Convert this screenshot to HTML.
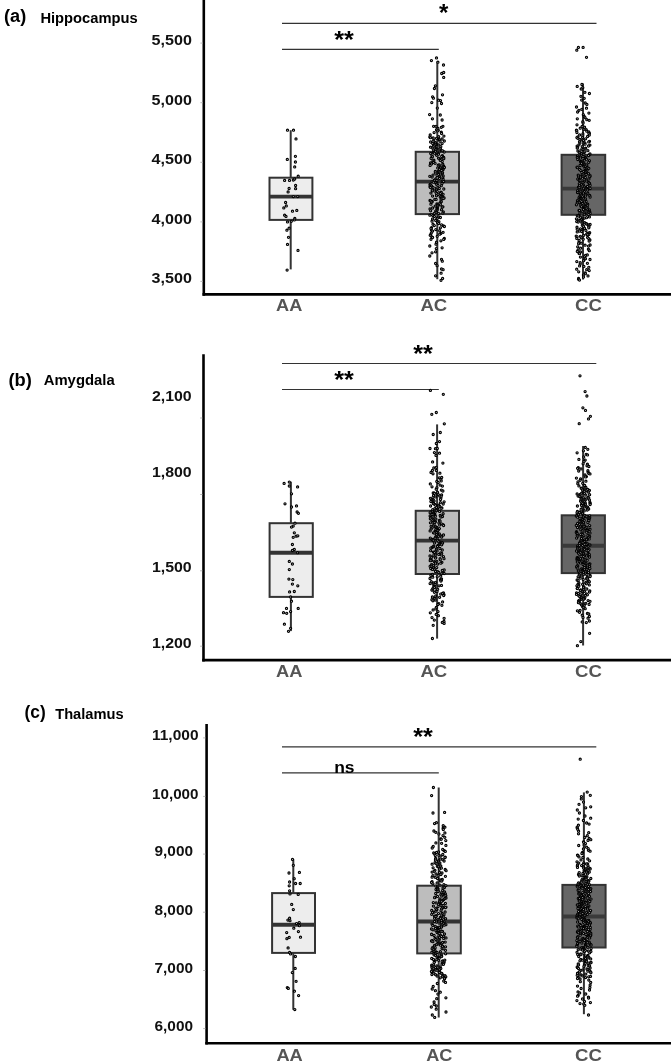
<!DOCTYPE html>
<html lang="en"><head><meta charset="utf-8"><title>Figure</title>
<style>html,body{margin:0;padding:0;background:#fff}svg{display:block}</style>
</head><body>
<svg width="671" height="1062" viewBox="0 0 671 1062">
<rect width="671" height="1062" fill="#fff"/>
<line x1="203.8" y1="0.0" x2="203.8" y2="295.7" stroke="#000" stroke-width="2.6" stroke-linecap="butt"/>
<line x1="202.5" y1="294.4" x2="671.0" y2="294.4" stroke="#000" stroke-width="2.6" stroke-linecap="butt"/>
<text x="151.6" y="45.1" font-size="13.8" fill="#111" text-anchor="start" font-family="Liberation Sans, Arial, Helvetica, sans-serif" font-weight="bold" textLength="40.3" lengthAdjust="spacingAndGlyphs" >5,500</text>
<line x1="200.4" y1="43.1" x2="202.6" y2="43.1" stroke="#bbb" stroke-width="1" stroke-linecap="butt"/>
<text x="151.6" y="104.7" font-size="13.8" fill="#111" text-anchor="start" font-family="Liberation Sans, Arial, Helvetica, sans-serif" font-weight="bold" textLength="40.3" lengthAdjust="spacingAndGlyphs" >5,000</text>
<line x1="200.4" y1="102.7" x2="202.6" y2="102.7" stroke="#bbb" stroke-width="1" stroke-linecap="butt"/>
<text x="151.6" y="164.3" font-size="13.8" fill="#111" text-anchor="start" font-family="Liberation Sans, Arial, Helvetica, sans-serif" font-weight="bold" textLength="40.3" lengthAdjust="spacingAndGlyphs" >4,500</text>
<line x1="200.4" y1="162.3" x2="202.6" y2="162.3" stroke="#bbb" stroke-width="1" stroke-linecap="butt"/>
<text x="151.6" y="223.9" font-size="13.8" fill="#111" text-anchor="start" font-family="Liberation Sans, Arial, Helvetica, sans-serif" font-weight="bold" textLength="40.3" lengthAdjust="spacingAndGlyphs" >4,000</text>
<line x1="200.4" y1="221.9" x2="202.6" y2="221.9" stroke="#bbb" stroke-width="1" stroke-linecap="butt"/>
<text x="151.6" y="283.4" font-size="13.8" fill="#111" text-anchor="start" font-family="Liberation Sans, Arial, Helvetica, sans-serif" font-weight="bold" textLength="40.3" lengthAdjust="spacingAndGlyphs" >3,500</text>
<line x1="200.4" y1="281.4" x2="202.6" y2="281.4" stroke="#bbb" stroke-width="1" stroke-linecap="butt"/>
<text x="4.0" y="22.4" font-size="18" fill="#000" text-anchor="start" font-family="Liberation Sans, Arial, Helvetica, sans-serif" font-weight="bold" textLength="22.2" lengthAdjust="spacingAndGlyphs" >(a)</text>
<text x="40.4" y="23.0" font-size="14.2" fill="#000" text-anchor="start" font-family="Liberation Sans, Arial, Helvetica, sans-serif" font-weight="bold" textLength="97.4" lengthAdjust="spacingAndGlyphs" >Hippocampus</text>
<line x1="282.0" y1="23.4" x2="596.5" y2="23.4" stroke="#333" stroke-width="1.2" stroke-linecap="butt"/>
<line x1="282.0" y1="49.4" x2="438.8" y2="49.4" stroke="#333" stroke-width="1.2" stroke-linecap="butt"/>
<line x1="290.7" y1="130.2" x2="290.7" y2="177.7" stroke="#333" stroke-width="2.0" stroke-linecap="butt"/>
<line x1="290.7" y1="219.9" x2="290.7" y2="269.4" stroke="#333" stroke-width="2.0" stroke-linecap="butt"/>
<rect x="269.5" y="177.7" width="42.9" height="42.2" fill="#ededed" stroke="#333" stroke-width="2.0"/>
<line x1="269.5" y1="196.6" x2="312.4" y2="196.6" stroke="#333" stroke-width="3.9" stroke-linecap="butt"/>
<line x1="437.3" y1="61.6" x2="437.3" y2="151.8" stroke="#333" stroke-width="2.0" stroke-linecap="butt"/>
<line x1="437.3" y1="214.1" x2="437.3" y2="279.2" stroke="#333" stroke-width="2.0" stroke-linecap="butt"/>
<rect x="415.7" y="151.8" width="43.3" height="62.3" fill="#bdbdbd" stroke="#333" stroke-width="2.0"/>
<line x1="415.7" y1="181.6" x2="459.0" y2="181.6" stroke="#333" stroke-width="3.9" stroke-linecap="butt"/>
<line x1="583.0" y1="83.4" x2="583.0" y2="154.8" stroke="#333" stroke-width="2.0" stroke-linecap="butt"/>
<line x1="583.0" y1="214.8" x2="583.0" y2="279.6" stroke="#333" stroke-width="2.0" stroke-linecap="butt"/>
<rect x="561.6" y="154.8" width="43.6" height="60.0" fill="#666" stroke="#333" stroke-width="2.0"/>
<line x1="561.6" y1="188.6" x2="605.2" y2="188.6" stroke="#3a3a3a" stroke-width="3.9" stroke-linecap="butt"/>
<g fill="#cfcfcf" stroke="#000" stroke-width="1.12"><circle cx="287.5" cy="130.2" r="1.08"/><circle cx="293.5" cy="130.2" r="1.08"/><circle cx="296.0" cy="138.9" r="1.08"/><circle cx="295.4" cy="156.3" r="1.08"/><circle cx="287.3" cy="159.4" r="1.08"/><circle cx="295.4" cy="162.0" r="1.08"/><circle cx="294.7" cy="166.9" r="1.08"/><circle cx="298.2" cy="176.2" r="1.08"/><circle cx="284.6" cy="180.4" r="1.08"/><circle cx="289.5" cy="180.4" r="1.08"/><circle cx="293.3" cy="180.0" r="1.08"/><circle cx="294.7" cy="179.0" r="1.08"/><circle cx="295.6" cy="185.5" r="1.08"/><circle cx="295.6" cy="188.7" r="1.08"/><circle cx="289.1" cy="188.5" r="1.08"/><circle cx="288.1" cy="191.9" r="1.08"/><circle cx="293.3" cy="196.6" r="1.08"/><circle cx="297.8" cy="196.6" r="1.08"/><circle cx="285.6" cy="202.5" r="1.08"/><circle cx="286.3" cy="205.9" r="1.08"/><circle cx="283.8" cy="207.9" r="1.08"/><circle cx="296.8" cy="210.4" r="1.08"/><circle cx="292.5" cy="211.2" r="1.08"/><circle cx="284.6" cy="215.2" r="1.08"/><circle cx="286.0" cy="216.4" r="1.08"/><circle cx="294.8" cy="218.5" r="1.08"/><circle cx="294.3" cy="219.9" r="1.08"/><circle cx="291.3" cy="221.3" r="1.08"/><circle cx="287.5" cy="221.9" r="1.08"/><circle cx="289.1" cy="228.2" r="1.08"/><circle cx="286.9" cy="230.2" r="1.08"/><circle cx="288.5" cy="237.3" r="1.08"/><circle cx="287.5" cy="244.4" r="1.08"/><circle cx="298.0" cy="250.4" r="1.08"/><circle cx="287.1" cy="270.1" r="1.08"/></g>
<g fill="#cfcfcf" stroke="#000" stroke-width="1.12"><circle cx="436.5" cy="57.9" r="1.08"/><circle cx="431.4" cy="60.6" r="1.08"/><circle cx="437.9" cy="62.2" r="1.08"/><circle cx="443.5" cy="65.0" r="1.08"/><circle cx="443.7" cy="72.5" r="1.08"/><circle cx="441.7" cy="73.5" r="1.08"/><circle cx="443.7" cy="77.4" r="1.08"/><circle cx="435.4" cy="85.8" r="1.08"/><circle cx="434.4" cy="88.5" r="1.08"/><circle cx="442.5" cy="94.8" r="1.08"/><circle cx="432.6" cy="96.8" r="1.08"/><circle cx="433.4" cy="98.2" r="1.08"/><circle cx="431.8" cy="102.6" r="1.08"/><circle cx="438.5" cy="100.2" r="1.08"/><circle cx="440.5" cy="100.6" r="1.08"/><circle cx="441.5" cy="103.5" r="1.08"/><circle cx="437.3" cy="108.1" r="1.08"/><circle cx="429.6" cy="114.6" r="1.08"/><circle cx="440.3" cy="115.0" r="1.08"/><circle cx="432.4" cy="118.8" r="1.08"/><circle cx="442.1" cy="120.0" r="1.08"/><circle cx="433.6" cy="126.3" r="1.08"/><circle cx="436.0" cy="126.3" r="1.08"/><circle cx="442.9" cy="126.3" r="1.08"/><circle cx="441.3" cy="127.3" r="1.08"/><circle cx="437.9" cy="128.4" r="1.08"/><circle cx="436.5" cy="129.7" r="1.08"/><circle cx="438.3" cy="130.3" r="1.08"/><circle cx="437.2" cy="130.9" r="1.08"/><circle cx="441.3" cy="132.2" r="1.08"/><circle cx="434.1" cy="132.6" r="1.08"/><circle cx="441.6" cy="133.5" r="1.08"/><circle cx="430.2" cy="134.9" r="1.08"/><circle cx="443.9" cy="136.1" r="1.08"/><circle cx="438.7" cy="136.7" r="1.08"/><circle cx="429.8" cy="137.1" r="1.08"/><circle cx="430.5" cy="137.7" r="1.08"/><circle cx="433.2" cy="138.0" r="1.08"/><circle cx="436.5" cy="138.3" r="1.08"/><circle cx="442.1" cy="139.0" r="1.08"/><circle cx="439.1" cy="139.4" r="1.08"/><circle cx="439.4" cy="139.9" r="1.08"/><circle cx="433.7" cy="140.3" r="1.08"/><circle cx="444.3" cy="141.0" r="1.08"/><circle cx="440.1" cy="141.3" r="1.08"/><circle cx="433.0" cy="141.6" r="1.08"/><circle cx="430.6" cy="142.0" r="1.08"/><circle cx="435.5" cy="142.6" r="1.08"/><circle cx="435.3" cy="143.1" r="1.08"/><circle cx="442.1" cy="143.6" r="1.08"/><circle cx="432.7" cy="143.6" r="1.08"/><circle cx="436.6" cy="144.5" r="1.08"/><circle cx="435.5" cy="144.9" r="1.08"/><circle cx="438.9" cy="145.0" r="1.08"/><circle cx="433.6" cy="145.7" r="1.08"/><circle cx="434.5" cy="145.9" r="1.08"/><circle cx="440.8" cy="146.7" r="1.08"/><circle cx="433.2" cy="146.8" r="1.08"/><circle cx="430.5" cy="147.2" r="1.08"/><circle cx="432.2" cy="147.9" r="1.08"/><circle cx="436.2" cy="148.3" r="1.08"/><circle cx="440.4" cy="148.6" r="1.08"/><circle cx="439.1" cy="149.0" r="1.08"/><circle cx="435.8" cy="149.4" r="1.08"/><circle cx="433.6" cy="149.9" r="1.08"/><circle cx="441.5" cy="150.7" r="1.08"/><circle cx="442.7" cy="150.8" r="1.08"/><circle cx="435.4" cy="151.2" r="1.08"/><circle cx="439.1" cy="151.9" r="1.08"/><circle cx="444.2" cy="152.0" r="1.08"/><circle cx="433.4" cy="152.5" r="1.08"/><circle cx="434.5" cy="153.2" r="1.08"/><circle cx="430.7" cy="153.4" r="1.08"/><circle cx="438.2" cy="153.7" r="1.08"/><circle cx="438.5" cy="154.2" r="1.08"/><circle cx="436.3" cy="154.7" r="1.08"/><circle cx="436.8" cy="155.3" r="1.08"/><circle cx="442.4" cy="155.6" r="1.08"/><circle cx="431.9" cy="155.8" r="1.08"/><circle cx="441.7" cy="156.5" r="1.08"/><circle cx="432.4" cy="156.7" r="1.08"/><circle cx="443.5" cy="157.3" r="1.08"/><circle cx="443.7" cy="157.5" r="1.08"/><circle cx="438.5" cy="158.2" r="1.08"/><circle cx="431.1" cy="158.4" r="1.08"/><circle cx="443.8" cy="158.7" r="1.08"/><circle cx="440.0" cy="159.2" r="1.08"/><circle cx="441.8" cy="159.6" r="1.08"/><circle cx="433.9" cy="160.2" r="1.08"/><circle cx="440.3" cy="160.4" r="1.08"/><circle cx="433.0" cy="160.8" r="1.08"/><circle cx="442.2" cy="161.4" r="1.08"/><circle cx="433.7" cy="161.8" r="1.08"/><circle cx="432.6" cy="162.4" r="1.08"/><circle cx="433.6" cy="162.4" r="1.08"/><circle cx="430.5" cy="163.0" r="1.08"/><circle cx="435.1" cy="163.3" r="1.08"/><circle cx="431.5" cy="163.9" r="1.08"/><circle cx="442.8" cy="164.2" r="1.08"/><circle cx="439.3" cy="164.9" r="1.08"/><circle cx="438.2" cy="165.2" r="1.08"/><circle cx="430.1" cy="165.4" r="1.08"/><circle cx="443.1" cy="165.8" r="1.08"/><circle cx="443.8" cy="166.5" r="1.08"/><circle cx="439.0" cy="166.6" r="1.08"/><circle cx="440.4" cy="167.2" r="1.08"/><circle cx="444.4" cy="167.5" r="1.08"/><circle cx="437.7" cy="167.9" r="1.08"/><circle cx="442.9" cy="168.6" r="1.08"/><circle cx="440.0" cy="169.0" r="1.08"/><circle cx="443.1" cy="169.4" r="1.08"/><circle cx="439.7" cy="169.6" r="1.08"/><circle cx="442.5" cy="170.3" r="1.08"/><circle cx="441.3" cy="170.5" r="1.08"/><circle cx="438.1" cy="171.1" r="1.08"/><circle cx="435.3" cy="171.4" r="1.08"/><circle cx="438.6" cy="171.8" r="1.08"/><circle cx="439.1" cy="172.0" r="1.08"/><circle cx="442.6" cy="172.8" r="1.08"/><circle cx="435.3" cy="173.1" r="1.08"/><circle cx="438.2" cy="173.6" r="1.08"/><circle cx="442.0" cy="173.9" r="1.08"/><circle cx="440.7" cy="174.1" r="1.08"/><circle cx="438.5" cy="174.5" r="1.08"/><circle cx="433.0" cy="175.1" r="1.08"/><circle cx="437.0" cy="175.6" r="1.08"/><circle cx="443.2" cy="176.0" r="1.08"/><circle cx="429.8" cy="176.3" r="1.08"/><circle cx="439.6" cy="176.7" r="1.08"/><circle cx="432.1" cy="177.1" r="1.08"/><circle cx="439.4" cy="177.8" r="1.08"/><circle cx="442.8" cy="178.0" r="1.08"/><circle cx="439.5" cy="178.4" r="1.08"/><circle cx="436.0" cy="178.7" r="1.08"/><circle cx="443.1" cy="179.4" r="1.08"/><circle cx="435.3" cy="179.9" r="1.08"/><circle cx="434.3" cy="180.2" r="1.08"/><circle cx="436.9" cy="180.4" r="1.08"/><circle cx="442.2" cy="181.1" r="1.08"/><circle cx="443.7" cy="181.5" r="1.08"/><circle cx="432.1" cy="181.7" r="1.08"/><circle cx="433.7" cy="182.2" r="1.08"/><circle cx="435.7" cy="182.5" r="1.08"/><circle cx="436.9" cy="183.2" r="1.08"/><circle cx="442.0" cy="183.5" r="1.08"/><circle cx="436.3" cy="184.2" r="1.08"/><circle cx="430.1" cy="184.3" r="1.08"/><circle cx="430.2" cy="185.1" r="1.08"/><circle cx="438.0" cy="185.4" r="1.08"/><circle cx="441.3" cy="185.7" r="1.08"/><circle cx="431.6" cy="186.0" r="1.08"/><circle cx="430.0" cy="186.6" r="1.08"/><circle cx="433.1" cy="187.3" r="1.08"/><circle cx="430.3" cy="187.4" r="1.08"/><circle cx="436.2" cy="188.1" r="1.08"/><circle cx="439.3" cy="188.5" r="1.08"/><circle cx="443.8" cy="189.0" r="1.08"/><circle cx="432.6" cy="189.4" r="1.08"/><circle cx="432.2" cy="189.8" r="1.08"/><circle cx="436.6" cy="190.0" r="1.08"/><circle cx="432.3" cy="190.8" r="1.08"/><circle cx="434.7" cy="191.0" r="1.08"/><circle cx="437.3" cy="191.6" r="1.08"/><circle cx="440.8" cy="192.1" r="1.08"/><circle cx="441.3" cy="192.4" r="1.08"/><circle cx="430.9" cy="193.1" r="1.08"/><circle cx="440.3" cy="193.5" r="1.08"/><circle cx="436.3" cy="193.6" r="1.08"/><circle cx="443.1" cy="194.3" r="1.08"/><circle cx="438.0" cy="194.6" r="1.08"/><circle cx="441.4" cy="195.3" r="1.08"/><circle cx="436.5" cy="195.8" r="1.08"/><circle cx="432.6" cy="196.1" r="1.08"/><circle cx="441.7" cy="196.5" r="1.08"/><circle cx="440.2" cy="197.0" r="1.08"/><circle cx="442.9" cy="197.2" r="1.08"/><circle cx="444.1" cy="198.0" r="1.08"/><circle cx="441.3" cy="198.2" r="1.08"/><circle cx="443.1" cy="198.6" r="1.08"/><circle cx="434.8" cy="199.3" r="1.08"/><circle cx="436.1" cy="199.4" r="1.08"/><circle cx="441.0" cy="200.0" r="1.08"/><circle cx="430.0" cy="200.4" r="1.08"/><circle cx="430.5" cy="201.0" r="1.08"/><circle cx="432.2" cy="201.5" r="1.08"/><circle cx="441.3" cy="201.7" r="1.08"/><circle cx="431.8" cy="202.1" r="1.08"/><circle cx="440.3" cy="202.7" r="1.08"/><circle cx="439.8" cy="203.3" r="1.08"/><circle cx="436.9" cy="203.8" r="1.08"/><circle cx="430.9" cy="204.2" r="1.08"/><circle cx="437.4" cy="204.3" r="1.08"/><circle cx="440.4" cy="204.8" r="1.08"/><circle cx="437.3" cy="205.4" r="1.08"/><circle cx="437.9" cy="205.9" r="1.08"/><circle cx="435.2" cy="206.1" r="1.08"/><circle cx="442.9" cy="206.8" r="1.08"/><circle cx="442.2" cy="207.0" r="1.08"/><circle cx="437.4" cy="207.8" r="1.08"/><circle cx="432.6" cy="208.0" r="1.08"/><circle cx="437.0" cy="208.5" r="1.08"/><circle cx="430.0" cy="208.9" r="1.08"/><circle cx="437.2" cy="209.5" r="1.08"/><circle cx="441.5" cy="209.7" r="1.08"/><circle cx="436.9" cy="210.3" r="1.08"/><circle cx="430.6" cy="210.8" r="1.08"/><circle cx="435.7" cy="211.1" r="1.08"/><circle cx="443.3" cy="211.8" r="1.08"/><circle cx="436.6" cy="211.9" r="1.08"/><circle cx="436.0" cy="212.3" r="1.08"/><circle cx="442.9" cy="213.0" r="1.08"/><circle cx="434.3" cy="213.3" r="1.08"/><circle cx="438.7" cy="213.6" r="1.08"/><circle cx="431.5" cy="214.6" r="1.08"/><circle cx="429.9" cy="215.2" r="1.08"/><circle cx="433.0" cy="215.5" r="1.08"/><circle cx="434.4" cy="216.5" r="1.08"/><circle cx="438.8" cy="217.0" r="1.08"/><circle cx="440.4" cy="217.5" r="1.08"/><circle cx="437.2" cy="218.2" r="1.08"/><circle cx="432.5" cy="219.0" r="1.08"/><circle cx="436.1" cy="219.8" r="1.08"/><circle cx="435.7" cy="220.4" r="1.08"/><circle cx="432.0" cy="221.2" r="1.08"/><circle cx="438.9" cy="221.7" r="1.08"/><circle cx="437.4" cy="222.6" r="1.08"/><circle cx="438.7" cy="223.5" r="1.08"/><circle cx="433.0" cy="224.2" r="1.08"/><circle cx="441.6" cy="224.8" r="1.08"/><circle cx="434.3" cy="225.6" r="1.08"/><circle cx="443.3" cy="225.8" r="1.08"/><circle cx="444.4" cy="226.5" r="1.08"/><circle cx="431.6" cy="227.6" r="1.08"/><circle cx="440.4" cy="227.8" r="1.08"/><circle cx="431.0" cy="228.5" r="1.08"/><circle cx="435.8" cy="229.6" r="1.08"/><circle cx="431.5" cy="230.3" r="1.08"/><circle cx="439.7" cy="230.7" r="1.08"/><circle cx="432.6" cy="231.1" r="1.08"/><circle cx="443.1" cy="232.3" r="1.08"/><circle cx="431.3" cy="233.1" r="1.08"/><circle cx="440.8" cy="233.5" r="1.08"/><circle cx="439.7" cy="234.2" r="1.08"/><circle cx="430.6" cy="234.7" r="1.08"/><circle cx="430.2" cy="235.3" r="1.08"/><circle cx="437.2" cy="236.3" r="1.08"/><circle cx="431.8" cy="237.0" r="1.08"/><circle cx="432.6" cy="237.4" r="1.08"/><circle cx="444.3" cy="238.5" r="1.08"/><circle cx="431.0" cy="239.3" r="1.08"/><circle cx="443.7" cy="239.4" r="1.08"/><circle cx="440.9" cy="240.8" r="1.08"/><circle cx="436.5" cy="242.2" r="1.08"/><circle cx="436.0" cy="244.2" r="1.08"/><circle cx="429.8" cy="246.0" r="1.08"/><circle cx="442.1" cy="247.8" r="1.08"/><circle cx="436.3" cy="248.6" r="1.08"/><circle cx="435.6" cy="251.8" r="1.08"/><circle cx="432.0" cy="252.8" r="1.08"/><circle cx="429.8" cy="256.0" r="1.08"/><circle cx="441.5" cy="259.3" r="1.08"/><circle cx="442.3" cy="261.2" r="1.08"/><circle cx="435.6" cy="263.4" r="1.08"/><circle cx="437.1" cy="265.7" r="1.08"/><circle cx="441.5" cy="269.0" r="1.08"/><circle cx="443.1" cy="269.7" r="1.08"/><circle cx="441.1" cy="273.2" r="1.08"/><circle cx="435.6" cy="275.8" r="1.08"/><circle cx="442.6" cy="278.4" r="1.08"/><circle cx="441.0" cy="280.3" r="1.08"/></g>
<g fill="#cfcfcf" stroke="#000" stroke-width="1.12"><circle cx="578.4" cy="47.4" r="1.08"/><circle cx="583.1" cy="47.4" r="1.08"/><circle cx="576.8" cy="50.2" r="1.08"/><circle cx="586.5" cy="57.3" r="1.08"/><circle cx="581.9" cy="84.5" r="1.08"/><circle cx="577.2" cy="86.4" r="1.08"/><circle cx="582.8" cy="87.7" r="1.08"/><circle cx="581.2" cy="89.0" r="1.08"/><circle cx="584.9" cy="92.3" r="1.08"/><circle cx="589.4" cy="93.5" r="1.08"/><circle cx="580.9" cy="96.3" r="1.08"/><circle cx="584.2" cy="98.3" r="1.08"/><circle cx="581.7" cy="100.1" r="1.08"/><circle cx="585.2" cy="103.0" r="1.08"/><circle cx="586.9" cy="104.4" r="1.08"/><circle cx="576.5" cy="107.0" r="1.08"/><circle cx="586.5" cy="108.2" r="1.08"/><circle cx="581.8" cy="109.3" r="1.08"/><circle cx="578.9" cy="110.3" r="1.08"/><circle cx="577.6" cy="112.0" r="1.08"/><circle cx="588.9" cy="113.1" r="1.08"/><circle cx="583.3" cy="114.7" r="1.08"/><circle cx="584.2" cy="116.5" r="1.08"/><circle cx="585.1" cy="117.7" r="1.08"/><circle cx="577.3" cy="118.8" r="1.08"/><circle cx="586.8" cy="119.7" r="1.08"/><circle cx="589.2" cy="120.3" r="1.08"/><circle cx="582.8" cy="121.7" r="1.08"/><circle cx="583.1" cy="123.0" r="1.08"/><circle cx="577.0" cy="124.8" r="1.08"/><circle cx="582.1" cy="126.4" r="1.08"/><circle cx="584.6" cy="127.2" r="1.08"/><circle cx="580.2" cy="128.2" r="1.08"/><circle cx="584.0" cy="129.3" r="1.08"/><circle cx="586.2" cy="129.7" r="1.08"/><circle cx="576.4" cy="130.2" r="1.08"/><circle cx="576.8" cy="130.7" r="1.08"/><circle cx="586.8" cy="131.2" r="1.08"/><circle cx="588.8" cy="131.9" r="1.08"/><circle cx="576.9" cy="132.6" r="1.08"/><circle cx="589.4" cy="133.3" r="1.08"/><circle cx="588.9" cy="133.3" r="1.08"/><circle cx="582.9" cy="134.0" r="1.08"/><circle cx="579.6" cy="134.9" r="1.08"/><circle cx="589.3" cy="135.1" r="1.08"/><circle cx="582.8" cy="135.8" r="1.08"/><circle cx="587.6" cy="136.5" r="1.08"/><circle cx="577.8" cy="136.8" r="1.08"/><circle cx="582.6" cy="137.3" r="1.08"/><circle cx="576.9" cy="137.6" r="1.08"/><circle cx="577.9" cy="138.3" r="1.08"/><circle cx="585.6" cy="138.8" r="1.08"/><circle cx="579.9" cy="139.4" r="1.08"/><circle cx="582.1" cy="140.0" r="1.08"/><circle cx="583.6" cy="140.6" r="1.08"/><circle cx="589.5" cy="141.3" r="1.08"/><circle cx="579.5" cy="141.7" r="1.08"/><circle cx="588.7" cy="141.9" r="1.08"/><circle cx="584.9" cy="142.8" r="1.08"/><circle cx="580.0" cy="143.1" r="1.08"/><circle cx="584.1" cy="143.8" r="1.08"/><circle cx="585.1" cy="144.2" r="1.08"/><circle cx="578.9" cy="144.9" r="1.08"/><circle cx="589.9" cy="145.1" r="1.08"/><circle cx="588.5" cy="146.0" r="1.08"/><circle cx="577.1" cy="146.1" r="1.08"/><circle cx="582.2" cy="146.7" r="1.08"/><circle cx="577.6" cy="147.5" r="1.08"/><circle cx="577.2" cy="148.0" r="1.08"/><circle cx="585.7" cy="148.2" r="1.08"/><circle cx="585.0" cy="149.0" r="1.08"/><circle cx="582.9" cy="149.5" r="1.08"/><circle cx="581.0" cy="149.9" r="1.08"/><circle cx="587.9" cy="150.7" r="1.08"/><circle cx="577.9" cy="150.9" r="1.08"/><circle cx="584.9" cy="151.8" r="1.08"/><circle cx="579.2" cy="152.3" r="1.08"/><circle cx="579.8" cy="152.7" r="1.08"/><circle cx="581.4" cy="153.4" r="1.08"/><circle cx="590.0" cy="153.9" r="1.08"/><circle cx="583.9" cy="154.2" r="1.08"/><circle cx="589.1" cy="154.9" r="1.08"/><circle cx="581.4" cy="155.2" r="1.08"/><circle cx="588.5" cy="155.5" r="1.08"/><circle cx="577.4" cy="155.9" r="1.08"/><circle cx="583.0" cy="156.5" r="1.08"/><circle cx="580.4" cy="156.9" r="1.08"/><circle cx="577.3" cy="157.4" r="1.08"/><circle cx="585.5" cy="157.5" r="1.08"/><circle cx="580.5" cy="157.9" r="1.08"/><circle cx="585.9" cy="158.6" r="1.08"/><circle cx="578.2" cy="158.8" r="1.08"/><circle cx="586.4" cy="159.2" r="1.08"/><circle cx="577.8" cy="159.6" r="1.08"/><circle cx="584.2" cy="160.2" r="1.08"/><circle cx="589.4" cy="160.7" r="1.08"/><circle cx="582.3" cy="161.1" r="1.08"/><circle cx="580.5" cy="161.4" r="1.08"/><circle cx="581.8" cy="161.7" r="1.08"/><circle cx="588.7" cy="162.3" r="1.08"/><circle cx="581.3" cy="162.4" r="1.08"/><circle cx="581.3" cy="162.9" r="1.08"/><circle cx="581.6" cy="163.3" r="1.08"/><circle cx="584.1" cy="163.6" r="1.08"/><circle cx="583.8" cy="164.3" r="1.08"/><circle cx="584.1" cy="164.7" r="1.08"/><circle cx="586.8" cy="164.9" r="1.08"/><circle cx="580.1" cy="165.5" r="1.08"/><circle cx="583.4" cy="165.6" r="1.08"/><circle cx="584.1" cy="166.2" r="1.08"/><circle cx="585.3" cy="166.8" r="1.08"/><circle cx="577.1" cy="167.1" r="1.08"/><circle cx="587.2" cy="167.4" r="1.08"/><circle cx="577.3" cy="167.7" r="1.08"/><circle cx="588.8" cy="168.3" r="1.08"/><circle cx="585.1" cy="168.5" r="1.08"/><circle cx="586.6" cy="168.9" r="1.08"/><circle cx="579.6" cy="169.5" r="1.08"/><circle cx="586.9" cy="169.8" r="1.08"/><circle cx="586.9" cy="170.3" r="1.08"/><circle cx="580.9" cy="170.6" r="1.08"/><circle cx="585.6" cy="171.3" r="1.08"/><circle cx="583.7" cy="171.5" r="1.08"/><circle cx="586.1" cy="172.0" r="1.08"/><circle cx="581.9" cy="172.5" r="1.08"/><circle cx="585.5" cy="172.9" r="1.08"/><circle cx="587.5" cy="173.3" r="1.08"/><circle cx="588.6" cy="173.7" r="1.08"/><circle cx="585.2" cy="174.1" r="1.08"/><circle cx="586.1" cy="174.4" r="1.08"/><circle cx="582.1" cy="174.9" r="1.08"/><circle cx="578.2" cy="175.1" r="1.08"/><circle cx="590.1" cy="175.7" r="1.08"/><circle cx="578.5" cy="175.9" r="1.08"/><circle cx="582.1" cy="176.3" r="1.08"/><circle cx="589.8" cy="176.7" r="1.08"/><circle cx="580.5" cy="177.0" r="1.08"/><circle cx="585.3" cy="177.5" r="1.08"/><circle cx="578.7" cy="178.1" r="1.08"/><circle cx="582.6" cy="178.2" r="1.08"/><circle cx="588.9" cy="178.9" r="1.08"/><circle cx="577.7" cy="179.1" r="1.08"/><circle cx="579.2" cy="179.5" r="1.08"/><circle cx="586.2" cy="179.9" r="1.08"/><circle cx="579.3" cy="180.5" r="1.08"/><circle cx="580.1" cy="180.7" r="1.08"/><circle cx="586.8" cy="181.1" r="1.08"/><circle cx="583.9" cy="181.6" r="1.08"/><circle cx="582.9" cy="182.2" r="1.08"/><circle cx="588.6" cy="182.4" r="1.08"/><circle cx="581.0" cy="183.1" r="1.08"/><circle cx="589.6" cy="183.3" r="1.08"/><circle cx="579.3" cy="183.7" r="1.08"/><circle cx="589.5" cy="183.9" r="1.08"/><circle cx="581.6" cy="184.7" r="1.08"/><circle cx="583.4" cy="185.0" r="1.08"/><circle cx="590.1" cy="185.3" r="1.08"/><circle cx="579.5" cy="185.8" r="1.08"/><circle cx="582.8" cy="186.0" r="1.08"/><circle cx="587.4" cy="186.5" r="1.08"/><circle cx="584.7" cy="187.1" r="1.08"/><circle cx="578.4" cy="187.2" r="1.08"/><circle cx="579.8" cy="187.7" r="1.08"/><circle cx="583.4" cy="188.3" r="1.08"/><circle cx="590.1" cy="188.6" r="1.08"/><circle cx="583.7" cy="188.8" r="1.08"/><circle cx="587.0" cy="189.1" r="1.08"/><circle cx="587.7" cy="189.4" r="1.08"/><circle cx="587.7" cy="190.0" r="1.08"/><circle cx="580.0" cy="190.1" r="1.08"/><circle cx="577.6" cy="190.7" r="1.08"/><circle cx="582.8" cy="190.9" r="1.08"/><circle cx="584.4" cy="191.4" r="1.08"/><circle cx="580.5" cy="191.8" r="1.08"/><circle cx="582.0" cy="192.1" r="1.08"/><circle cx="577.5" cy="192.5" r="1.08"/><circle cx="579.1" cy="192.8" r="1.08"/><circle cx="583.6" cy="193.0" r="1.08"/><circle cx="587.8" cy="193.2" r="1.08"/><circle cx="580.6" cy="193.6" r="1.08"/><circle cx="580.5" cy="193.9" r="1.08"/><circle cx="586.2" cy="194.4" r="1.08"/><circle cx="585.8" cy="194.7" r="1.08"/><circle cx="581.7" cy="195.0" r="1.08"/><circle cx="589.7" cy="195.4" r="1.08"/><circle cx="585.4" cy="195.9" r="1.08"/><circle cx="581.5" cy="196.0" r="1.08"/><circle cx="579.5" cy="196.6" r="1.08"/><circle cx="582.6" cy="196.8" r="1.08"/><circle cx="590.1" cy="197.0" r="1.08"/><circle cx="579.1" cy="197.6" r="1.08"/><circle cx="580.3" cy="197.9" r="1.08"/><circle cx="583.8" cy="198.2" r="1.08"/><circle cx="580.9" cy="198.5" r="1.08"/><circle cx="585.5" cy="198.9" r="1.08"/><circle cx="579.0" cy="199.2" r="1.08"/><circle cx="580.8" cy="199.7" r="1.08"/><circle cx="584.1" cy="200.1" r="1.08"/><circle cx="580.8" cy="200.4" r="1.08"/><circle cx="577.5" cy="200.7" r="1.08"/><circle cx="577.5" cy="200.9" r="1.08"/><circle cx="586.1" cy="201.4" r="1.08"/><circle cx="581.8" cy="201.6" r="1.08"/><circle cx="584.5" cy="202.1" r="1.08"/><circle cx="579.4" cy="202.2" r="1.08"/><circle cx="577.9" cy="202.6" r="1.08"/><circle cx="577.2" cy="203.0" r="1.08"/><circle cx="582.2" cy="203.5" r="1.08"/><circle cx="585.3" cy="203.8" r="1.08"/><circle cx="587.7" cy="204.2" r="1.08"/><circle cx="580.8" cy="204.4" r="1.08"/><circle cx="576.4" cy="204.8" r="1.08"/><circle cx="586.0" cy="205.1" r="1.08"/><circle cx="587.3" cy="205.6" r="1.08"/><circle cx="584.7" cy="205.9" r="1.08"/><circle cx="580.8" cy="206.0" r="1.08"/><circle cx="585.3" cy="206.5" r="1.08"/><circle cx="581.5" cy="206.7" r="1.08"/><circle cx="587.2" cy="207.2" r="1.08"/><circle cx="584.8" cy="207.7" r="1.08"/><circle cx="586.9" cy="207.8" r="1.08"/><circle cx="583.9" cy="208.4" r="1.08"/><circle cx="583.2" cy="208.5" r="1.08"/><circle cx="586.2" cy="208.8" r="1.08"/><circle cx="583.4" cy="209.5" r="1.08"/><circle cx="587.9" cy="209.7" r="1.08"/><circle cx="589.4" cy="209.9" r="1.08"/><circle cx="579.0" cy="210.4" r="1.08"/><circle cx="579.6" cy="210.5" r="1.08"/><circle cx="586.0" cy="211.0" r="1.08"/><circle cx="589.2" cy="211.3" r="1.08"/><circle cx="582.7" cy="211.7" r="1.08"/><circle cx="589.8" cy="211.9" r="1.08"/><circle cx="588.9" cy="212.3" r="1.08"/><circle cx="584.1" cy="212.8" r="1.08"/><circle cx="579.9" cy="213.1" r="1.08"/><circle cx="590.1" cy="213.6" r="1.08"/><circle cx="584.6" cy="213.9" r="1.08"/><circle cx="587.7" cy="214.0" r="1.08"/><circle cx="588.8" cy="214.4" r="1.08"/><circle cx="584.2" cy="214.7" r="1.08"/><circle cx="578.8" cy="215.4" r="1.08"/><circle cx="577.3" cy="215.7" r="1.08"/><circle cx="578.7" cy="216.0" r="1.08"/><circle cx="589.4" cy="216.9" r="1.08"/><circle cx="580.5" cy="217.2" r="1.08"/><circle cx="586.5" cy="217.7" r="1.08"/><circle cx="584.5" cy="218.1" r="1.08"/><circle cx="576.4" cy="218.8" r="1.08"/><circle cx="582.8" cy="218.9" r="1.08"/><circle cx="581.6" cy="219.4" r="1.08"/><circle cx="578.6" cy="220.1" r="1.08"/><circle cx="579.9" cy="220.5" r="1.08"/><circle cx="580.8" cy="221.0" r="1.08"/><circle cx="576.7" cy="221.6" r="1.08"/><circle cx="578.2" cy="222.1" r="1.08"/><circle cx="584.6" cy="222.7" r="1.08"/><circle cx="582.0" cy="222.9" r="1.08"/><circle cx="585.9" cy="223.5" r="1.08"/><circle cx="586.7" cy="224.0" r="1.08"/><circle cx="590.1" cy="224.4" r="1.08"/><circle cx="588.2" cy="225.0" r="1.08"/><circle cx="582.3" cy="225.3" r="1.08"/><circle cx="588.9" cy="225.8" r="1.08"/><circle cx="583.6" cy="226.3" r="1.08"/><circle cx="588.9" cy="226.7" r="1.08"/><circle cx="577.0" cy="227.2" r="1.08"/><circle cx="588.8" cy="227.8" r="1.08"/><circle cx="584.6" cy="228.3" r="1.08"/><circle cx="580.5" cy="228.8" r="1.08"/><circle cx="577.2" cy="229.2" r="1.08"/><circle cx="582.5" cy="229.5" r="1.08"/><circle cx="581.8" cy="230.1" r="1.08"/><circle cx="585.9" cy="230.4" r="1.08"/><circle cx="579.5" cy="231.1" r="1.08"/><circle cx="581.7" cy="231.5" r="1.08"/><circle cx="577.2" cy="231.9" r="1.08"/><circle cx="589.7" cy="232.7" r="1.08"/><circle cx="588.3" cy="233.1" r="1.08"/><circle cx="587.5" cy="233.5" r="1.08"/><circle cx="586.7" cy="233.9" r="1.08"/><circle cx="588.8" cy="234.5" r="1.08"/><circle cx="587.3" cy="234.8" r="1.08"/><circle cx="583.7" cy="235.3" r="1.08"/><circle cx="576.2" cy="236.1" r="1.08"/><circle cx="580.4" cy="236.3" r="1.08"/><circle cx="577.1" cy="236.8" r="1.08"/><circle cx="587.6" cy="237.5" r="1.08"/><circle cx="581.2" cy="237.8" r="1.08"/><circle cx="576.8" cy="238.4" r="1.08"/><circle cx="588.8" cy="238.6" r="1.08"/><circle cx="583.2" cy="239.2" r="1.08"/><circle cx="589.9" cy="240.0" r="1.08"/><circle cx="579.1" cy="240.4" r="1.08"/><circle cx="589.1" cy="241.1" r="1.08"/><circle cx="578.9" cy="242.5" r="1.08"/><circle cx="581.2" cy="243.2" r="1.08"/><circle cx="578.6" cy="243.8" r="1.08"/><circle cx="590.1" cy="245.0" r="1.08"/><circle cx="585.1" cy="245.2" r="1.08"/><circle cx="588.5" cy="246.1" r="1.08"/><circle cx="577.7" cy="246.8" r="1.08"/><circle cx="580.6" cy="248.2" r="1.08"/><circle cx="588.4" cy="249.2" r="1.08"/><circle cx="578.1" cy="249.9" r="1.08"/><circle cx="589.3" cy="250.7" r="1.08"/><circle cx="577.3" cy="251.4" r="1.08"/><circle cx="580.5" cy="252.0" r="1.08"/><circle cx="579.0" cy="253.3" r="1.08"/><circle cx="579.5" cy="253.7" r="1.08"/><circle cx="587.3" cy="254.9" r="1.08"/><circle cx="585.5" cy="255.5" r="1.08"/><circle cx="584.5" cy="256.8" r="1.08"/><circle cx="580.4" cy="257.1" r="1.08"/><circle cx="585.5" cy="258.6" r="1.08"/><circle cx="585.2" cy="258.8" r="1.08"/><circle cx="590.0" cy="259.5" r="1.08"/><circle cx="583.6" cy="260.7" r="1.08"/><circle cx="576.8" cy="261.6" r="1.08"/><circle cx="580.2" cy="262.6" r="1.08"/><circle cx="587.4" cy="263.3" r="1.08"/><circle cx="580.2" cy="264.1" r="1.08"/><circle cx="579.6" cy="265.9" r="1.08"/><circle cx="583.9" cy="266.4" r="1.08"/><circle cx="588.8" cy="267.3" r="1.08"/><circle cx="576.7" cy="269.2" r="1.08"/><circle cx="586.7" cy="269.7" r="1.08"/><circle cx="589.2" cy="270.6" r="1.08"/><circle cx="578.7" cy="271.8" r="1.08"/><circle cx="585.2" cy="272.8" r="1.08"/><circle cx="585.4" cy="273.7" r="1.08"/><circle cx="583.4" cy="275.1" r="1.08"/><circle cx="588.0" cy="275.9" r="1.08"/><circle cx="583.5" cy="277.1" r="1.08"/><circle cx="578.6" cy="278.4" r="1.08"/><circle cx="578.5" cy="279.2" r="1.08"/><circle cx="579.5" cy="280.1" r="1.08"/></g>
<text x="276.1" y="310.9" font-size="16" fill="#555" text-anchor="start" font-family="Liberation Sans, Arial, Helvetica, sans-serif" font-weight="bold" textLength="26.2" lengthAdjust="spacingAndGlyphs" >AA</text>
<text x="420.4" y="310.9" font-size="15.9" fill="#555" text-anchor="start" font-family="Liberation Sans, Arial, Helvetica, sans-serif" font-weight="bold" textLength="26.8" lengthAdjust="spacingAndGlyphs" >AC</text>
<text x="575.0" y="310.9" font-size="15.9" fill="#555" text-anchor="start" font-family="Liberation Sans, Arial, Helvetica, sans-serif" font-weight="bold" textLength="26.8" lengthAdjust="spacingAndGlyphs" >CC</text>
<text x="439.0" y="20.9" font-size="24" fill="#000" text-anchor="start" font-family="Liberation Sans, Arial, Helvetica, sans-serif" font-weight="bold" >*</text>
<text x="334.2" y="48.0" font-size="24" fill="#000" text-anchor="start" font-family="Liberation Sans, Arial, Helvetica, sans-serif" font-weight="bold" textLength="19.6" lengthAdjust="spacingAndGlyphs" >**</text>
<line x1="203.5" y1="354.3" x2="203.5" y2="661.4" stroke="#000" stroke-width="2.6" stroke-linecap="butt"/>
<line x1="202.2" y1="660.1" x2="671.0" y2="660.1" stroke="#000" stroke-width="2.6" stroke-linecap="butt"/>
<text x="151.9" y="401.2" font-size="13.8" fill="#111" text-anchor="start" font-family="Liberation Sans, Arial, Helvetica, sans-serif" font-weight="bold" textLength="39.8" lengthAdjust="spacingAndGlyphs" >2,100</text>
<text x="151.9" y="477.3" font-size="13.8" fill="#111" text-anchor="start" font-family="Liberation Sans, Arial, Helvetica, sans-serif" font-weight="bold" textLength="39.8" lengthAdjust="spacingAndGlyphs" >1,800</text>
<text x="151.9" y="572.2" font-size="13.8" fill="#111" text-anchor="start" font-family="Liberation Sans, Arial, Helvetica, sans-serif" font-weight="bold" textLength="39.8" lengthAdjust="spacingAndGlyphs" >1,500</text>
<text x="151.9" y="648.0" font-size="13.8" fill="#111" text-anchor="start" font-family="Liberation Sans, Arial, Helvetica, sans-serif" font-weight="bold" textLength="39.8" lengthAdjust="spacingAndGlyphs" >1,200</text>
<text x="8.5" y="386.4" font-size="18" fill="#000" text-anchor="start" font-family="Liberation Sans, Arial, Helvetica, sans-serif" font-weight="bold" textLength="23.4" lengthAdjust="spacingAndGlyphs" >(b)</text>
<text x="43.7" y="385.4" font-size="14.2" fill="#000" text-anchor="start" font-family="Liberation Sans, Arial, Helvetica, sans-serif" font-weight="bold" textLength="71.0" lengthAdjust="spacingAndGlyphs" >Amygdala</text>
<line x1="200.1" y1="418.0" x2="202.3" y2="418.0" stroke="#bbb" stroke-width="1" stroke-linecap="butt"/>
<line x1="200.1" y1="494.5" x2="202.3" y2="494.5" stroke="#bbb" stroke-width="1" stroke-linecap="butt"/>
<line x1="200.1" y1="570.8" x2="202.3" y2="570.8" stroke="#bbb" stroke-width="1" stroke-linecap="butt"/>
<line x1="200.1" y1="646.2" x2="202.3" y2="646.2" stroke="#bbb" stroke-width="1" stroke-linecap="butt"/>
<line x1="282.0" y1="363.5" x2="596.3" y2="363.5" stroke="#333" stroke-width="1.2" stroke-linecap="butt"/>
<line x1="282.0" y1="389.5" x2="438.8" y2="389.5" stroke="#333" stroke-width="1.2" stroke-linecap="butt"/>
<line x1="290.9" y1="481.7" x2="290.9" y2="523.2" stroke="#333" stroke-width="2.0" stroke-linecap="butt"/>
<line x1="290.9" y1="596.9" x2="290.9" y2="631.1" stroke="#333" stroke-width="2.0" stroke-linecap="butt"/>
<rect x="269.6" y="523.2" width="43.2" height="73.7" fill="#ededed" stroke="#333" stroke-width="2.0"/>
<line x1="269.6" y1="552.7" x2="312.8" y2="552.7" stroke="#333" stroke-width="3.9" stroke-linecap="butt"/>
<line x1="437.1" y1="424.4" x2="437.1" y2="510.8" stroke="#333" stroke-width="2.0" stroke-linecap="butt"/>
<line x1="437.1" y1="574.0" x2="437.1" y2="638.6" stroke="#333" stroke-width="2.0" stroke-linecap="butt"/>
<rect x="415.7" y="510.8" width="43.3" height="63.2" fill="#bdbdbd" stroke="#333" stroke-width="2.0"/>
<line x1="415.7" y1="540.6" x2="459.0" y2="540.6" stroke="#333" stroke-width="3.9" stroke-linecap="butt"/>
<line x1="583.1" y1="446.0" x2="583.1" y2="515.3" stroke="#333" stroke-width="2.0" stroke-linecap="butt"/>
<line x1="583.1" y1="573.1" x2="583.1" y2="645.5" stroke="#333" stroke-width="2.0" stroke-linecap="butt"/>
<rect x="561.7" y="515.3" width="43.2" height="57.8" fill="#666" stroke="#333" stroke-width="2.0"/>
<line x1="561.7" y1="545.8" x2="604.9" y2="545.8" stroke="#3a3a3a" stroke-width="3.9" stroke-linecap="butt"/>
<g fill="#cfcfcf" stroke="#000" stroke-width="1.12"><circle cx="284.1" cy="483.4" r="1.08"/><circle cx="289.3" cy="482.1" r="1.08"/><circle cx="289.3" cy="486.0" r="1.08"/><circle cx="297.6" cy="486.9" r="1.08"/><circle cx="291.5" cy="493.8" r="1.08"/><circle cx="285.0" cy="503.8" r="1.08"/><circle cx="291.5" cy="507.0" r="1.08"/><circle cx="296.5" cy="505.9" r="1.08"/><circle cx="297.1" cy="512.0" r="1.08"/><circle cx="298.4" cy="513.3" r="1.08"/><circle cx="295.0" cy="523.2" r="1.08"/><circle cx="293.2" cy="526.1" r="1.08"/><circle cx="291.5" cy="527.1" r="1.08"/><circle cx="294.3" cy="532.8" r="1.08"/><circle cx="296.1" cy="536.2" r="1.08"/><circle cx="297.8" cy="535.8" r="1.08"/><circle cx="293.2" cy="537.3" r="1.08"/><circle cx="292.4" cy="544.5" r="1.08"/><circle cx="294.3" cy="549.5" r="1.08"/><circle cx="292.4" cy="550.5" r="1.08"/><circle cx="297.6" cy="552.7" r="1.08"/><circle cx="289.3" cy="561.4" r="1.08"/><circle cx="292.4" cy="564.0" r="1.08"/><circle cx="289.3" cy="569.6" r="1.08"/><circle cx="288.9" cy="579.1" r="1.08"/><circle cx="292.8" cy="579.6" r="1.08"/><circle cx="292.4" cy="584.1" r="1.08"/><circle cx="297.8" cy="585.8" r="1.08"/><circle cx="294.3" cy="591.5" r="1.08"/><circle cx="289.6" cy="591.9" r="1.08"/><circle cx="290.6" cy="596.9" r="1.08"/><circle cx="291.5" cy="601.2" r="1.08"/><circle cx="286.5" cy="608.4" r="1.08"/><circle cx="298.2" cy="608.4" r="1.08"/><circle cx="283.5" cy="612.7" r="1.08"/><circle cx="286.7" cy="613.3" r="1.08"/><circle cx="290.6" cy="611.6" r="1.08"/><circle cx="284.4" cy="624.2" r="1.08"/><circle cx="290.6" cy="628.3" r="1.08"/><circle cx="288.5" cy="631.3" r="1.08"/></g>
<g fill="#cfcfcf" stroke="#000" stroke-width="1.12"><circle cx="430.4" cy="390.4" r="1.08"/><circle cx="443.3" cy="394.3" r="1.08"/><circle cx="431.8" cy="414.3" r="1.08"/><circle cx="436.3" cy="412.5" r="1.08"/><circle cx="444.3" cy="423.8" r="1.08"/><circle cx="433.2" cy="434.5" r="1.08"/><circle cx="440.3" cy="432.5" r="1.08"/><circle cx="439.5" cy="441.6" r="1.08"/><circle cx="436.3" cy="443.5" r="1.08"/><circle cx="430.0" cy="448.5" r="1.08"/><circle cx="435.4" cy="448.7" r="1.08"/><circle cx="437.3" cy="448.5" r="1.08"/><circle cx="434.4" cy="452.6" r="1.08"/><circle cx="439.5" cy="453.2" r="1.08"/><circle cx="436.0" cy="455.4" r="1.08"/><circle cx="432.6" cy="461.9" r="1.08"/><circle cx="442.9" cy="463.1" r="1.08"/><circle cx="433.8" cy="467.9" r="1.08"/><circle cx="436.3" cy="467.3" r="1.08"/><circle cx="432.4" cy="470.4" r="1.08"/><circle cx="431.0" cy="472.4" r="1.08"/><circle cx="436.3" cy="470.4" r="1.08"/><circle cx="433.0" cy="473.8" r="1.08"/><circle cx="439.9" cy="473.2" r="1.08"/><circle cx="439.3" cy="477.8" r="1.08"/><circle cx="441.7" cy="477.4" r="1.08"/><circle cx="440.9" cy="479.5" r="1.08"/><circle cx="441.2" cy="480.9" r="1.08"/><circle cx="436.8" cy="481.4" r="1.08"/><circle cx="438.2" cy="482.5" r="1.08"/><circle cx="430.3" cy="483.9" r="1.08"/><circle cx="440.1" cy="485.1" r="1.08"/><circle cx="442.4" cy="486.1" r="1.08"/><circle cx="432.0" cy="486.8" r="1.08"/><circle cx="436.9" cy="487.7" r="1.08"/><circle cx="436.2" cy="489.2" r="1.08"/><circle cx="441.3" cy="490.1" r="1.08"/><circle cx="442.9" cy="491.0" r="1.08"/><circle cx="437.6" cy="492.3" r="1.08"/><circle cx="433.2" cy="492.9" r="1.08"/><circle cx="434.3" cy="493.1" r="1.08"/><circle cx="434.3" cy="493.5" r="1.08"/><circle cx="437.4" cy="494.3" r="1.08"/><circle cx="438.3" cy="494.6" r="1.08"/><circle cx="441.6" cy="495.0" r="1.08"/><circle cx="433.5" cy="495.5" r="1.08"/><circle cx="439.7" cy="496.0" r="1.08"/><circle cx="441.1" cy="496.8" r="1.08"/><circle cx="435.7" cy="496.9" r="1.08"/><circle cx="432.9" cy="497.6" r="1.08"/><circle cx="430.4" cy="498.3" r="1.08"/><circle cx="440.8" cy="498.6" r="1.08"/><circle cx="431.9" cy="499.3" r="1.08"/><circle cx="440.5" cy="499.6" r="1.08"/><circle cx="433.3" cy="499.9" r="1.08"/><circle cx="431.8" cy="500.8" r="1.08"/><circle cx="434.1" cy="501.0" r="1.08"/><circle cx="430.9" cy="501.5" r="1.08"/><circle cx="444.1" cy="501.8" r="1.08"/><circle cx="440.4" cy="502.7" r="1.08"/><circle cx="433.4" cy="502.9" r="1.08"/><circle cx="433.3" cy="503.5" r="1.08"/><circle cx="443.2" cy="504.0" r="1.08"/><circle cx="434.7" cy="504.4" r="1.08"/><circle cx="438.6" cy="505.2" r="1.08"/><circle cx="435.6" cy="505.2" r="1.08"/><circle cx="430.6" cy="506.0" r="1.08"/><circle cx="439.8" cy="506.4" r="1.08"/><circle cx="438.3" cy="507.1" r="1.08"/><circle cx="436.5" cy="507.6" r="1.08"/><circle cx="441.9" cy="507.9" r="1.08"/><circle cx="441.1" cy="508.3" r="1.08"/><circle cx="434.8" cy="508.7" r="1.08"/><circle cx="437.7" cy="509.2" r="1.08"/><circle cx="432.7" cy="509.7" r="1.08"/><circle cx="436.5" cy="510.2" r="1.08"/><circle cx="436.2" cy="510.7" r="1.08"/><circle cx="439.6" cy="511.4" r="1.08"/><circle cx="432.7" cy="511.8" r="1.08"/><circle cx="430.8" cy="512.0" r="1.08"/><circle cx="435.0" cy="512.6" r="1.08"/><circle cx="430.1" cy="512.8" r="1.08"/><circle cx="433.6" cy="513.2" r="1.08"/><circle cx="443.1" cy="513.7" r="1.08"/><circle cx="433.7" cy="514.2" r="1.08"/><circle cx="432.0" cy="514.5" r="1.08"/><circle cx="435.0" cy="515.2" r="1.08"/><circle cx="440.2" cy="515.5" r="1.08"/><circle cx="430.1" cy="516.0" r="1.08"/><circle cx="435.3" cy="516.2" r="1.08"/><circle cx="442.5" cy="516.5" r="1.08"/><circle cx="440.9" cy="517.0" r="1.08"/><circle cx="430.6" cy="517.5" r="1.08"/><circle cx="433.2" cy="517.8" r="1.08"/><circle cx="432.0" cy="518.1" r="1.08"/><circle cx="430.3" cy="518.8" r="1.08"/><circle cx="435.9" cy="519.1" r="1.08"/><circle cx="431.8" cy="519.6" r="1.08"/><circle cx="433.5" cy="520.1" r="1.08"/><circle cx="439.4" cy="520.5" r="1.08"/><circle cx="432.7" cy="520.7" r="1.08"/><circle cx="440.1" cy="521.1" r="1.08"/><circle cx="435.4" cy="521.6" r="1.08"/><circle cx="433.1" cy="522.2" r="1.08"/><circle cx="434.8" cy="522.4" r="1.08"/><circle cx="430.4" cy="522.8" r="1.08"/><circle cx="438.9" cy="523.1" r="1.08"/><circle cx="441.4" cy="523.8" r="1.08"/><circle cx="434.1" cy="524.3" r="1.08"/><circle cx="443.0" cy="524.6" r="1.08"/><circle cx="439.7" cy="524.9" r="1.08"/><circle cx="443.6" cy="525.5" r="1.08"/><circle cx="433.2" cy="526.0" r="1.08"/><circle cx="431.1" cy="526.3" r="1.08"/><circle cx="435.5" cy="526.6" r="1.08"/><circle cx="435.3" cy="526.9" r="1.08"/><circle cx="437.0" cy="527.4" r="1.08"/><circle cx="432.1" cy="527.8" r="1.08"/><circle cx="436.6" cy="528.3" r="1.08"/><circle cx="439.4" cy="528.6" r="1.08"/><circle cx="431.1" cy="529.0" r="1.08"/><circle cx="435.9" cy="529.5" r="1.08"/><circle cx="438.2" cy="529.8" r="1.08"/><circle cx="437.8" cy="530.5" r="1.08"/><circle cx="430.1" cy="530.9" r="1.08"/><circle cx="435.0" cy="531.2" r="1.08"/><circle cx="435.6" cy="531.5" r="1.08"/><circle cx="436.9" cy="531.9" r="1.08"/><circle cx="436.6" cy="532.5" r="1.08"/><circle cx="433.4" cy="532.8" r="1.08"/><circle cx="434.8" cy="533.1" r="1.08"/><circle cx="437.9" cy="533.9" r="1.08"/><circle cx="439.4" cy="534.0" r="1.08"/><circle cx="436.6" cy="534.4" r="1.08"/><circle cx="443.5" cy="535.0" r="1.08"/><circle cx="438.1" cy="535.3" r="1.08"/><circle cx="440.9" cy="536.0" r="1.08"/><circle cx="438.7" cy="536.3" r="1.08"/><circle cx="435.8" cy="536.6" r="1.08"/><circle cx="441.7" cy="537.0" r="1.08"/><circle cx="435.3" cy="537.6" r="1.08"/><circle cx="430.3" cy="538.1" r="1.08"/><circle cx="437.1" cy="538.2" r="1.08"/><circle cx="435.0" cy="538.6" r="1.08"/><circle cx="432.0" cy="539.3" r="1.08"/><circle cx="433.1" cy="539.4" r="1.08"/><circle cx="433.2" cy="540.1" r="1.08"/><circle cx="437.6" cy="540.2" r="1.08"/><circle cx="433.2" cy="540.8" r="1.08"/><circle cx="439.2" cy="541.3" r="1.08"/><circle cx="438.8" cy="541.8" r="1.08"/><circle cx="441.8" cy="542.3" r="1.08"/><circle cx="434.6" cy="542.9" r="1.08"/><circle cx="442.6" cy="543.1" r="1.08"/><circle cx="440.1" cy="543.5" r="1.08"/><circle cx="439.7" cy="544.2" r="1.08"/><circle cx="441.7" cy="544.8" r="1.08"/><circle cx="438.8" cy="544.8" r="1.08"/><circle cx="437.9" cy="545.5" r="1.08"/><circle cx="433.9" cy="545.9" r="1.08"/><circle cx="437.5" cy="546.5" r="1.08"/><circle cx="433.4" cy="546.7" r="1.08"/><circle cx="432.4" cy="547.2" r="1.08"/><circle cx="431.6" cy="547.8" r="1.08"/><circle cx="430.8" cy="548.1" r="1.08"/><circle cx="439.9" cy="548.5" r="1.08"/><circle cx="436.3" cy="549.0" r="1.08"/><circle cx="436.7" cy="549.8" r="1.08"/><circle cx="442.3" cy="550.0" r="1.08"/><circle cx="430.6" cy="550.7" r="1.08"/><circle cx="437.1" cy="550.9" r="1.08"/><circle cx="435.4" cy="551.6" r="1.08"/><circle cx="433.4" cy="552.1" r="1.08"/><circle cx="434.5" cy="552.5" r="1.08"/><circle cx="440.7" cy="552.8" r="1.08"/><circle cx="441.7" cy="553.5" r="1.08"/><circle cx="435.9" cy="553.9" r="1.08"/><circle cx="438.8" cy="554.4" r="1.08"/><circle cx="441.3" cy="554.9" r="1.08"/><circle cx="435.2" cy="555.0" r="1.08"/><circle cx="433.1" cy="555.8" r="1.08"/><circle cx="430.0" cy="556.0" r="1.08"/><circle cx="443.4" cy="556.6" r="1.08"/><circle cx="431.7" cy="557.3" r="1.08"/><circle cx="435.8" cy="557.6" r="1.08"/><circle cx="435.5" cy="558.1" r="1.08"/><circle cx="444.0" cy="558.7" r="1.08"/><circle cx="440.1" cy="558.7" r="1.08"/><circle cx="430.4" cy="559.2" r="1.08"/><circle cx="440.3" cy="559.8" r="1.08"/><circle cx="431.5" cy="560.5" r="1.08"/><circle cx="430.2" cy="560.7" r="1.08"/><circle cx="436.8" cy="561.3" r="1.08"/><circle cx="434.3" cy="561.6" r="1.08"/><circle cx="441.9" cy="562.3" r="1.08"/><circle cx="435.4" cy="562.5" r="1.08"/><circle cx="440.8" cy="563.2" r="1.08"/><circle cx="435.4" cy="563.8" r="1.08"/><circle cx="437.7" cy="564.1" r="1.08"/><circle cx="431.9" cy="564.6" r="1.08"/><circle cx="431.3" cy="564.8" r="1.08"/><circle cx="433.4" cy="565.6" r="1.08"/><circle cx="431.5" cy="565.9" r="1.08"/><circle cx="430.1" cy="566.3" r="1.08"/><circle cx="431.9" cy="566.8" r="1.08"/><circle cx="433.7" cy="567.3" r="1.08"/><circle cx="436.7" cy="567.6" r="1.08"/><circle cx="433.5" cy="568.1" r="1.08"/><circle cx="430.7" cy="568.5" r="1.08"/><circle cx="434.3" cy="569.3" r="1.08"/><circle cx="432.4" cy="569.4" r="1.08"/><circle cx="444.2" cy="570.0" r="1.08"/><circle cx="442.3" cy="570.4" r="1.08"/><circle cx="435.8" cy="571.0" r="1.08"/><circle cx="435.5" cy="571.6" r="1.08"/><circle cx="437.7" cy="571.7" r="1.08"/><circle cx="438.8" cy="572.4" r="1.08"/><circle cx="443.3" cy="572.7" r="1.08"/><circle cx="444.1" cy="573.5" r="1.08"/><circle cx="441.8" cy="573.7" r="1.08"/><circle cx="432.3" cy="574.5" r="1.08"/><circle cx="432.2" cy="574.7" r="1.08"/><circle cx="430.9" cy="575.4" r="1.08"/><circle cx="440.7" cy="576.2" r="1.08"/><circle cx="437.2" cy="576.8" r="1.08"/><circle cx="432.8" cy="577.2" r="1.08"/><circle cx="430.0" cy="578.5" r="1.08"/><circle cx="441.5" cy="578.8" r="1.08"/><circle cx="440.4" cy="579.7" r="1.08"/><circle cx="441.4" cy="580.0" r="1.08"/><circle cx="440.9" cy="581.0" r="1.08"/><circle cx="431.3" cy="581.7" r="1.08"/><circle cx="435.6" cy="582.3" r="1.08"/><circle cx="433.4" cy="582.8" r="1.08"/><circle cx="430.1" cy="583.6" r="1.08"/><circle cx="433.1" cy="584.0" r="1.08"/><circle cx="435.1" cy="584.5" r="1.08"/><circle cx="441.5" cy="585.4" r="1.08"/><circle cx="439.0" cy="585.8" r="1.08"/><circle cx="433.8" cy="586.4" r="1.08"/><circle cx="434.4" cy="587.4" r="1.08"/><circle cx="434.6" cy="587.6" r="1.08"/><circle cx="432.8" cy="588.6" r="1.08"/><circle cx="437.7" cy="589.3" r="1.08"/><circle cx="432.4" cy="589.9" r="1.08"/><circle cx="431.9" cy="590.1" r="1.08"/><circle cx="436.0" cy="590.9" r="1.08"/><circle cx="437.0" cy="591.4" r="1.08"/><circle cx="434.4" cy="592.3" r="1.08"/><circle cx="443.5" cy="593.0" r="1.08"/><circle cx="442.5" cy="593.4" r="1.08"/><circle cx="440.7" cy="594.1" r="1.08"/><circle cx="444.0" cy="594.6" r="1.08"/><circle cx="443.7" cy="595.5" r="1.08"/><circle cx="435.7" cy="596.0" r="1.08"/><circle cx="432.4" cy="597.0" r="1.08"/><circle cx="439.6" cy="597.3" r="1.08"/><circle cx="434.4" cy="598.4" r="1.08"/><circle cx="434.9" cy="598.5" r="1.08"/><circle cx="431.9" cy="599.7" r="1.08"/><circle cx="435.2" cy="600.1" r="1.08"/><circle cx="432.9" cy="600.8" r="1.08"/><circle cx="442.6" cy="601.9" r="1.08"/><circle cx="438.9" cy="603.6" r="1.08"/><circle cx="438.0" cy="604.5" r="1.08"/><circle cx="441.9" cy="605.3" r="1.08"/><circle cx="436.3" cy="607.5" r="1.08"/><circle cx="435.8" cy="608.9" r="1.08"/><circle cx="433.1" cy="609.9" r="1.08"/><circle cx="438.0" cy="611.6" r="1.08"/><circle cx="430.3" cy="612.8" r="1.08"/><circle cx="436.2" cy="614.4" r="1.08"/><circle cx="438.4" cy="615.7" r="1.08"/><circle cx="432.0" cy="617.6" r="1.08"/><circle cx="444.1" cy="618.3" r="1.08"/><circle cx="434.3" cy="620.1" r="1.08"/><circle cx="444.0" cy="621.5" r="1.08"/><circle cx="442.3" cy="622.4" r="1.08"/><circle cx="444.1" cy="623.4" r="1.08"/><circle cx="433.2" cy="625.3" r="1.08"/><circle cx="432.4" cy="638.5" r="1.08"/></g>
<g fill="#cfcfcf" stroke="#000" stroke-width="1.12"><circle cx="580.0" cy="375.8" r="1.08"/><circle cx="585.1" cy="391.6" r="1.08"/><circle cx="586.9" cy="396.0" r="1.08"/><circle cx="582.9" cy="407.8" r="1.08"/><circle cx="585.5" cy="410.4" r="1.08"/><circle cx="590.4" cy="416.3" r="1.08"/><circle cx="588.5" cy="418.9" r="1.08"/><circle cx="579.2" cy="423.7" r="1.08"/><circle cx="585.3" cy="447.4" r="1.08"/><circle cx="587.8" cy="449.3" r="1.08"/><circle cx="583.4" cy="450.8" r="1.08"/><circle cx="577.1" cy="452.8" r="1.08"/><circle cx="586.2" cy="454.3" r="1.08"/><circle cx="587.5" cy="454.9" r="1.08"/><circle cx="583.7" cy="457.0" r="1.08"/><circle cx="578.9" cy="459.4" r="1.08"/><circle cx="585.2" cy="460.1" r="1.08"/><circle cx="584.0" cy="461.4" r="1.08"/><circle cx="583.1" cy="463.8" r="1.08"/><circle cx="587.4" cy="464.2" r="1.08"/><circle cx="587.0" cy="465.8" r="1.08"/><circle cx="588.9" cy="466.5" r="1.08"/><circle cx="578.3" cy="467.7" r="1.08"/><circle cx="577.6" cy="468.3" r="1.08"/><circle cx="581.0" cy="468.9" r="1.08"/><circle cx="587.9" cy="470.7" r="1.08"/><circle cx="578.7" cy="471.0" r="1.08"/><circle cx="588.1" cy="472.2" r="1.08"/><circle cx="588.8" cy="473.4" r="1.08"/><circle cx="590.0" cy="473.9" r="1.08"/><circle cx="585.0" cy="475.0" r="1.08"/><circle cx="586.4" cy="476.6" r="1.08"/><circle cx="585.6" cy="476.9" r="1.08"/><circle cx="576.4" cy="478.1" r="1.08"/><circle cx="580.6" cy="479.0" r="1.08"/><circle cx="580.1" cy="480.3" r="1.08"/><circle cx="585.9" cy="481.2" r="1.08"/><circle cx="578.0" cy="481.8" r="1.08"/><circle cx="582.7" cy="483.3" r="1.08"/><circle cx="577.8" cy="483.7" r="1.08"/><circle cx="584.7" cy="485.5" r="1.08"/><circle cx="578.9" cy="485.9" r="1.08"/><circle cx="585.9" cy="487.5" r="1.08"/><circle cx="581.2" cy="488.2" r="1.08"/><circle cx="581.9" cy="488.6" r="1.08"/><circle cx="585.0" cy="489.0" r="1.08"/><circle cx="587.7" cy="489.5" r="1.08"/><circle cx="582.6" cy="490.0" r="1.08"/><circle cx="589.4" cy="490.4" r="1.08"/><circle cx="586.1" cy="490.8" r="1.08"/><circle cx="584.3" cy="491.2" r="1.08"/><circle cx="588.4" cy="491.6" r="1.08"/><circle cx="588.2" cy="492.1" r="1.08"/><circle cx="582.6" cy="492.7" r="1.08"/><circle cx="581.6" cy="493.2" r="1.08"/><circle cx="584.6" cy="493.6" r="1.08"/><circle cx="577.1" cy="493.9" r="1.08"/><circle cx="580.1" cy="494.3" r="1.08"/><circle cx="589.6" cy="494.7" r="1.08"/><circle cx="585.9" cy="495.1" r="1.08"/><circle cx="579.6" cy="495.7" r="1.08"/><circle cx="578.1" cy="496.0" r="1.08"/><circle cx="579.7" cy="496.6" r="1.08"/><circle cx="581.0" cy="496.9" r="1.08"/><circle cx="588.1" cy="497.5" r="1.08"/><circle cx="583.8" cy="497.8" r="1.08"/><circle cx="588.8" cy="498.0" r="1.08"/><circle cx="581.3" cy="498.4" r="1.08"/><circle cx="586.3" cy="499.0" r="1.08"/><circle cx="581.0" cy="499.6" r="1.08"/><circle cx="589.5" cy="500.1" r="1.08"/><circle cx="585.1" cy="500.1" r="1.08"/><circle cx="581.3" cy="500.8" r="1.08"/><circle cx="580.6" cy="501.2" r="1.08"/><circle cx="584.7" cy="501.7" r="1.08"/><circle cx="589.9" cy="502.3" r="1.08"/><circle cx="581.7" cy="502.7" r="1.08"/><circle cx="585.3" cy="503.1" r="1.08"/><circle cx="590.2" cy="503.4" r="1.08"/><circle cx="582.7" cy="503.6" r="1.08"/><circle cx="585.4" cy="504.2" r="1.08"/><circle cx="590.1" cy="504.5" r="1.08"/><circle cx="581.4" cy="505.0" r="1.08"/><circle cx="581.7" cy="505.4" r="1.08"/><circle cx="577.4" cy="506.0" r="1.08"/><circle cx="585.3" cy="506.2" r="1.08"/><circle cx="586.6" cy="506.9" r="1.08"/><circle cx="587.6" cy="507.1" r="1.08"/><circle cx="587.1" cy="507.8" r="1.08"/><circle cx="582.8" cy="507.9" r="1.08"/><circle cx="588.2" cy="508.3" r="1.08"/><circle cx="588.7" cy="509.1" r="1.08"/><circle cx="581.1" cy="509.2" r="1.08"/><circle cx="583.7" cy="509.8" r="1.08"/><circle cx="587.2" cy="510.1" r="1.08"/><circle cx="583.3" cy="510.6" r="1.08"/><circle cx="584.2" cy="510.9" r="1.08"/><circle cx="577.4" cy="511.4" r="1.08"/><circle cx="580.3" cy="512.0" r="1.08"/><circle cx="579.7" cy="512.5" r="1.08"/><circle cx="577.0" cy="512.8" r="1.08"/><circle cx="582.5" cy="513.1" r="1.08"/><circle cx="582.6" cy="513.7" r="1.08"/><circle cx="577.7" cy="514.3" r="1.08"/><circle cx="578.4" cy="514.7" r="1.08"/><circle cx="583.5" cy="515.2" r="1.08"/><circle cx="584.8" cy="515.3" r="1.08"/><circle cx="589.7" cy="515.8" r="1.08"/><circle cx="576.3" cy="516.0" r="1.08"/><circle cx="587.7" cy="516.3" r="1.08"/><circle cx="586.2" cy="516.8" r="1.08"/><circle cx="583.6" cy="517.0" r="1.08"/><circle cx="577.7" cy="517.2" r="1.08"/><circle cx="589.7" cy="517.7" r="1.08"/><circle cx="588.1" cy="518.1" r="1.08"/><circle cx="582.0" cy="518.3" r="1.08"/><circle cx="579.9" cy="518.6" r="1.08"/><circle cx="589.1" cy="519.0" r="1.08"/><circle cx="583.0" cy="519.4" r="1.08"/><circle cx="588.6" cy="519.8" r="1.08"/><circle cx="584.2" cy="520.3" r="1.08"/><circle cx="588.9" cy="520.5" r="1.08"/><circle cx="580.4" cy="520.8" r="1.08"/><circle cx="579.8" cy="521.2" r="1.08"/><circle cx="582.2" cy="521.4" r="1.08"/><circle cx="581.2" cy="521.8" r="1.08"/><circle cx="582.5" cy="522.1" r="1.08"/><circle cx="587.9" cy="522.4" r="1.08"/><circle cx="583.6" cy="522.7" r="1.08"/><circle cx="581.8" cy="523.2" r="1.08"/><circle cx="577.6" cy="523.4" r="1.08"/><circle cx="580.6" cy="523.8" r="1.08"/><circle cx="579.4" cy="524.2" r="1.08"/><circle cx="583.0" cy="524.6" r="1.08"/><circle cx="581.9" cy="524.7" r="1.08"/><circle cx="576.3" cy="525.4" r="1.08"/><circle cx="589.7" cy="525.6" r="1.08"/><circle cx="584.6" cy="525.9" r="1.08"/><circle cx="580.4" cy="526.2" r="1.08"/><circle cx="584.5" cy="526.6" r="1.08"/><circle cx="583.2" cy="526.9" r="1.08"/><circle cx="586.8" cy="527.3" r="1.08"/><circle cx="577.5" cy="527.5" r="1.08"/><circle cx="580.0" cy="527.9" r="1.08"/><circle cx="582.2" cy="528.4" r="1.08"/><circle cx="581.8" cy="528.8" r="1.08"/><circle cx="585.7" cy="528.9" r="1.08"/><circle cx="590.0" cy="529.2" r="1.08"/><circle cx="580.8" cy="529.8" r="1.08"/><circle cx="587.7" cy="529.9" r="1.08"/><circle cx="585.2" cy="530.4" r="1.08"/><circle cx="586.9" cy="530.5" r="1.08"/><circle cx="584.9" cy="530.9" r="1.08"/><circle cx="589.2" cy="531.4" r="1.08"/><circle cx="576.5" cy="531.7" r="1.08"/><circle cx="586.7" cy="532.2" r="1.08"/><circle cx="576.3" cy="532.4" r="1.08"/><circle cx="582.1" cy="532.8" r="1.08"/><circle cx="590.0" cy="533.1" r="1.08"/><circle cx="577.2" cy="533.5" r="1.08"/><circle cx="582.4" cy="533.8" r="1.08"/><circle cx="581.5" cy="534.2" r="1.08"/><circle cx="582.3" cy="534.4" r="1.08"/><circle cx="580.7" cy="534.6" r="1.08"/><circle cx="577.2" cy="535.2" r="1.08"/><circle cx="587.9" cy="535.3" r="1.08"/><circle cx="583.9" cy="535.8" r="1.08"/><circle cx="577.9" cy="536.0" r="1.08"/><circle cx="589.6" cy="536.4" r="1.08"/><circle cx="589.1" cy="536.8" r="1.08"/><circle cx="582.0" cy="537.0" r="1.08"/><circle cx="587.9" cy="537.5" r="1.08"/><circle cx="588.4" cy="537.7" r="1.08"/><circle cx="576.6" cy="538.1" r="1.08"/><circle cx="581.5" cy="538.5" r="1.08"/><circle cx="589.2" cy="538.9" r="1.08"/><circle cx="585.9" cy="539.2" r="1.08"/><circle cx="587.1" cy="539.5" r="1.08"/><circle cx="586.6" cy="539.7" r="1.08"/><circle cx="584.4" cy="540.1" r="1.08"/><circle cx="581.0" cy="540.4" r="1.08"/><circle cx="581.1" cy="540.8" r="1.08"/><circle cx="583.5" cy="541.2" r="1.08"/><circle cx="584.2" cy="541.5" r="1.08"/><circle cx="581.2" cy="542.0" r="1.08"/><circle cx="582.9" cy="542.3" r="1.08"/><circle cx="580.8" cy="542.7" r="1.08"/><circle cx="579.5" cy="543.0" r="1.08"/><circle cx="586.4" cy="543.2" r="1.08"/><circle cx="579.8" cy="543.6" r="1.08"/><circle cx="587.7" cy="543.8" r="1.08"/><circle cx="586.2" cy="544.2" r="1.08"/><circle cx="584.8" cy="544.6" r="1.08"/><circle cx="589.9" cy="545.0" r="1.08"/><circle cx="582.6" cy="545.4" r="1.08"/><circle cx="579.4" cy="545.6" r="1.08"/><circle cx="577.6" cy="546.0" r="1.08"/><circle cx="588.1" cy="546.2" r="1.08"/><circle cx="586.0" cy="546.5" r="1.08"/><circle cx="583.9" cy="546.9" r="1.08"/><circle cx="578.3" cy="547.2" r="1.08"/><circle cx="586.9" cy="547.7" r="1.08"/><circle cx="577.6" cy="548.0" r="1.08"/><circle cx="579.3" cy="548.3" r="1.08"/><circle cx="583.7" cy="548.4" r="1.08"/><circle cx="577.9" cy="548.9" r="1.08"/><circle cx="584.4" cy="549.3" r="1.08"/><circle cx="589.1" cy="549.6" r="1.08"/><circle cx="581.3" cy="549.9" r="1.08"/><circle cx="586.3" cy="550.3" r="1.08"/><circle cx="588.2" cy="550.4" r="1.08"/><circle cx="579.9" cy="550.9" r="1.08"/><circle cx="576.5" cy="551.0" r="1.08"/><circle cx="579.7" cy="551.4" r="1.08"/><circle cx="579.7" cy="551.7" r="1.08"/><circle cx="583.0" cy="552.0" r="1.08"/><circle cx="580.2" cy="552.3" r="1.08"/><circle cx="583.3" cy="552.7" r="1.08"/><circle cx="578.4" cy="553.2" r="1.08"/><circle cx="588.2" cy="553.5" r="1.08"/><circle cx="583.8" cy="553.7" r="1.08"/><circle cx="583.7" cy="554.1" r="1.08"/><circle cx="589.1" cy="554.4" r="1.08"/><circle cx="579.8" cy="554.7" r="1.08"/><circle cx="589.3" cy="554.8" r="1.08"/><circle cx="587.2" cy="555.3" r="1.08"/><circle cx="582.5" cy="555.5" r="1.08"/><circle cx="586.4" cy="555.9" r="1.08"/><circle cx="583.3" cy="556.4" r="1.08"/><circle cx="581.1" cy="556.6" r="1.08"/><circle cx="589.5" cy="556.8" r="1.08"/><circle cx="589.4" cy="557.1" r="1.08"/><circle cx="577.2" cy="557.6" r="1.08"/><circle cx="577.6" cy="558.0" r="1.08"/><circle cx="577.9" cy="558.2" r="1.08"/><circle cx="580.5" cy="558.7" r="1.08"/><circle cx="577.1" cy="559.0" r="1.08"/><circle cx="577.2" cy="559.2" r="1.08"/><circle cx="584.2" cy="559.3" r="1.08"/><circle cx="585.8" cy="560.0" r="1.08"/><circle cx="587.2" cy="560.2" r="1.08"/><circle cx="577.3" cy="560.5" r="1.08"/><circle cx="578.8" cy="560.8" r="1.08"/><circle cx="581.2" cy="561.1" r="1.08"/><circle cx="579.0" cy="561.4" r="1.08"/><circle cx="582.0" cy="561.8" r="1.08"/><circle cx="577.3" cy="562.1" r="1.08"/><circle cx="584.0" cy="562.4" r="1.08"/><circle cx="584.1" cy="562.9" r="1.08"/><circle cx="580.4" cy="562.9" r="1.08"/><circle cx="586.0" cy="563.3" r="1.08"/><circle cx="589.9" cy="563.8" r="1.08"/><circle cx="589.2" cy="564.1" r="1.08"/><circle cx="589.3" cy="564.4" r="1.08"/><circle cx="583.1" cy="564.5" r="1.08"/><circle cx="585.8" cy="565.0" r="1.08"/><circle cx="584.8" cy="565.3" r="1.08"/><circle cx="577.4" cy="565.7" r="1.08"/><circle cx="589.6" cy="565.9" r="1.08"/><circle cx="577.8" cy="566.1" r="1.08"/><circle cx="589.6" cy="566.7" r="1.08"/><circle cx="576.6" cy="566.7" r="1.08"/><circle cx="585.8" cy="567.3" r="1.08"/><circle cx="584.3" cy="567.5" r="1.08"/><circle cx="587.5" cy="567.9" r="1.08"/><circle cx="577.2" cy="568.0" r="1.08"/><circle cx="589.9" cy="568.6" r="1.08"/><circle cx="581.9" cy="568.9" r="1.08"/><circle cx="581.1" cy="569.1" r="1.08"/><circle cx="587.0" cy="569.3" r="1.08"/><circle cx="584.4" cy="569.7" r="1.08"/><circle cx="580.9" cy="570.1" r="1.08"/><circle cx="582.6" cy="570.5" r="1.08"/><circle cx="588.5" cy="570.7" r="1.08"/><circle cx="578.3" cy="571.0" r="1.08"/><circle cx="582.9" cy="571.3" r="1.08"/><circle cx="580.9" cy="571.8" r="1.08"/><circle cx="585.4" cy="572.0" r="1.08"/><circle cx="583.5" cy="572.3" r="1.08"/><circle cx="588.5" cy="572.6" r="1.08"/><circle cx="579.5" cy="572.9" r="1.08"/><circle cx="580.8" cy="573.3" r="1.08"/><circle cx="585.6" cy="573.8" r="1.08"/><circle cx="583.8" cy="574.3" r="1.08"/><circle cx="586.9" cy="574.4" r="1.08"/><circle cx="579.2" cy="575.0" r="1.08"/><circle cx="590.1" cy="575.5" r="1.08"/><circle cx="581.2" cy="575.9" r="1.08"/><circle cx="590.1" cy="576.6" r="1.08"/><circle cx="578.1" cy="576.8" r="1.08"/><circle cx="587.2" cy="577.5" r="1.08"/><circle cx="587.3" cy="577.7" r="1.08"/><circle cx="580.2" cy="578.2" r="1.08"/><circle cx="586.6" cy="578.7" r="1.08"/><circle cx="587.7" cy="579.1" r="1.08"/><circle cx="583.2" cy="579.4" r="1.08"/><circle cx="577.1" cy="580.0" r="1.08"/><circle cx="578.2" cy="580.7" r="1.08"/><circle cx="588.5" cy="580.8" r="1.08"/><circle cx="589.2" cy="581.6" r="1.08"/><circle cx="589.2" cy="581.8" r="1.08"/><circle cx="586.2" cy="582.1" r="1.08"/><circle cx="578.9" cy="583.0" r="1.08"/><circle cx="585.7" cy="583.0" r="1.08"/><circle cx="586.4" cy="583.8" r="1.08"/><circle cx="582.6" cy="584.3" r="1.08"/><circle cx="577.9" cy="584.5" r="1.08"/><circle cx="589.3" cy="584.9" r="1.08"/><circle cx="578.8" cy="585.3" r="1.08"/><circle cx="576.9" cy="585.8" r="1.08"/><circle cx="578.8" cy="586.3" r="1.08"/><circle cx="583.6" cy="586.6" r="1.08"/><circle cx="584.1" cy="587.3" r="1.08"/><circle cx="583.6" cy="587.8" r="1.08"/><circle cx="577.3" cy="588.4" r="1.08"/><circle cx="577.3" cy="588.5" r="1.08"/><circle cx="586.8" cy="589.0" r="1.08"/><circle cx="583.3" cy="589.7" r="1.08"/><circle cx="580.8" cy="589.8" r="1.08"/><circle cx="580.3" cy="590.5" r="1.08"/><circle cx="589.8" cy="591.0" r="1.08"/><circle cx="584.6" cy="591.3" r="1.08"/><circle cx="582.7" cy="591.9" r="1.08"/><circle cx="589.4" cy="592.1" r="1.08"/><circle cx="576.5" cy="592.9" r="1.08"/><circle cx="581.8" cy="593.3" r="1.08"/><circle cx="578.5" cy="593.4" r="1.08"/><circle cx="586.5" cy="593.9" r="1.08"/><circle cx="576.5" cy="594.4" r="1.08"/><circle cx="587.4" cy="594.8" r="1.08"/><circle cx="585.3" cy="595.4" r="1.08"/><circle cx="578.8" cy="595.8" r="1.08"/><circle cx="580.5" cy="596.1" r="1.08"/><circle cx="579.8" cy="596.5" r="1.08"/><circle cx="581.4" cy="597.3" r="1.08"/><circle cx="584.9" cy="597.6" r="1.08"/><circle cx="581.2" cy="598.0" r="1.08"/><circle cx="584.3" cy="598.7" r="1.08"/><circle cx="583.8" cy="599.0" r="1.08"/><circle cx="580.9" cy="599.4" r="1.08"/><circle cx="579.5" cy="600.1" r="1.08"/><circle cx="588.1" cy="600.6" r="1.08"/><circle cx="578.5" cy="601.0" r="1.08"/><circle cx="590.0" cy="601.3" r="1.08"/><circle cx="578.6" cy="601.6" r="1.08"/><circle cx="579.5" cy="602.3" r="1.08"/><circle cx="578.4" cy="602.7" r="1.08"/><circle cx="580.2" cy="603.3" r="1.08"/><circle cx="585.8" cy="603.3" r="1.08"/><circle cx="584.0" cy="603.9" r="1.08"/><circle cx="589.1" cy="604.4" r="1.08"/><circle cx="581.5" cy="604.9" r="1.08"/><circle cx="583.2" cy="605.1" r="1.08"/><circle cx="584.2" cy="605.7" r="1.08"/><circle cx="582.7" cy="606.7" r="1.08"/><circle cx="583.2" cy="607.2" r="1.08"/><circle cx="585.2" cy="608.7" r="1.08"/><circle cx="580.1" cy="610.3" r="1.08"/><circle cx="577.4" cy="610.8" r="1.08"/><circle cx="579.5" cy="612.3" r="1.08"/><circle cx="587.4" cy="613.4" r="1.08"/><circle cx="588.8" cy="613.9" r="1.08"/><circle cx="582.2" cy="615.2" r="1.08"/><circle cx="589.4" cy="616.4" r="1.08"/><circle cx="583.0" cy="617.4" r="1.08"/><circle cx="588.0" cy="618.2" r="1.08"/><circle cx="582.2" cy="621.9" r="1.08"/><circle cx="586.3" cy="622.6" r="1.08"/><circle cx="589.4" cy="621.0" r="1.08"/><circle cx="589.6" cy="633.3" r="1.08"/><circle cx="580.8" cy="641.6" r="1.08"/><circle cx="577.4" cy="645.7" r="1.08"/></g>
<text x="276.0" y="677.2" font-size="16" fill="#555" text-anchor="start" font-family="Liberation Sans, Arial, Helvetica, sans-serif" font-weight="bold" textLength="26.4" lengthAdjust="spacingAndGlyphs" >AA</text>
<text x="420.4" y="677.2" font-size="15.9" fill="#555" text-anchor="start" font-family="Liberation Sans, Arial, Helvetica, sans-serif" font-weight="bold" textLength="26.8" lengthAdjust="spacingAndGlyphs" >AC</text>
<text x="575.0" y="677.2" font-size="15.9" fill="#555" text-anchor="start" font-family="Liberation Sans, Arial, Helvetica, sans-serif" font-weight="bold" textLength="26.8" lengthAdjust="spacingAndGlyphs" >CC</text>
<text x="413.2" y="361.5" font-size="24" fill="#000" text-anchor="start" font-family="Liberation Sans, Arial, Helvetica, sans-serif" font-weight="bold" textLength="19.6" lengthAdjust="spacingAndGlyphs" >**</text>
<text x="334.2" y="388.0" font-size="24" fill="#000" text-anchor="start" font-family="Liberation Sans, Arial, Helvetica, sans-serif" font-weight="bold" textLength="19.6" lengthAdjust="spacingAndGlyphs" >**</text>
<line x1="206.6" y1="724.0" x2="206.6" y2="1044.5" stroke="#000" stroke-width="2.6" stroke-linecap="butt"/>
<line x1="205.3" y1="1043.3" x2="671.0" y2="1043.3" stroke="#000" stroke-width="2.6" stroke-linecap="butt"/>
<text x="152.0" y="740.2" font-size="13.9" fill="#111" text-anchor="start" font-family="Liberation Sans, Arial, Helvetica, sans-serif" font-weight="bold" textLength="46.5" lengthAdjust="spacingAndGlyphs" >11,000</text>
<line x1="203.1" y1="737.9" x2="205.3" y2="737.9" stroke="#bbb" stroke-width="1" stroke-linecap="butt"/>
<text x="152.0" y="798.7" font-size="13.9" fill="#111" text-anchor="start" font-family="Liberation Sans, Arial, Helvetica, sans-serif" font-weight="bold" textLength="46.5" lengthAdjust="spacingAndGlyphs" >10,000</text>
<line x1="203.1" y1="796.4" x2="205.3" y2="796.4" stroke="#bbb" stroke-width="1" stroke-linecap="butt"/>
<text x="154.5" y="856.4" font-size="13.9" fill="#111" text-anchor="start" font-family="Liberation Sans, Arial, Helvetica, sans-serif" font-weight="bold" textLength="38.5" lengthAdjust="spacingAndGlyphs" >9,000</text>
<line x1="203.1" y1="854.1" x2="205.3" y2="854.1" stroke="#bbb" stroke-width="1" stroke-linecap="butt"/>
<text x="154.5" y="914.5" font-size="13.9" fill="#111" text-anchor="start" font-family="Liberation Sans, Arial, Helvetica, sans-serif" font-weight="bold" textLength="38.5" lengthAdjust="spacingAndGlyphs" >8,000</text>
<line x1="203.1" y1="912.2" x2="205.3" y2="912.2" stroke="#bbb" stroke-width="1" stroke-linecap="butt"/>
<text x="154.5" y="972.8" font-size="13.9" fill="#111" text-anchor="start" font-family="Liberation Sans, Arial, Helvetica, sans-serif" font-weight="bold" textLength="38.5" lengthAdjust="spacingAndGlyphs" >7,000</text>
<line x1="203.1" y1="970.5" x2="205.3" y2="970.5" stroke="#bbb" stroke-width="1" stroke-linecap="butt"/>
<text x="154.5" y="1030.9" font-size="13.9" fill="#111" text-anchor="start" font-family="Liberation Sans, Arial, Helvetica, sans-serif" font-weight="bold" textLength="38.5" lengthAdjust="spacingAndGlyphs" >6,000</text>
<line x1="203.1" y1="1028.6" x2="205.3" y2="1028.6" stroke="#bbb" stroke-width="1" stroke-linecap="butt"/>
<text x="24.6" y="717.7" font-size="18" fill="#000" text-anchor="start" font-family="Liberation Sans, Arial, Helvetica, sans-serif" font-weight="bold" textLength="21.2" lengthAdjust="spacingAndGlyphs" >(c)</text>
<text x="55.2" y="718.6" font-size="14.2" fill="#000" text-anchor="start" font-family="Liberation Sans, Arial, Helvetica, sans-serif" font-weight="bold" textLength="68.5" lengthAdjust="spacingAndGlyphs" >Thalamus</text>
<line x1="282.0" y1="746.9" x2="596.3" y2="746.9" stroke="#333" stroke-width="1.2" stroke-linecap="butt"/>
<line x1="282.0" y1="772.9" x2="438.8" y2="772.9" stroke="#333" stroke-width="1.2" stroke-linecap="butt"/>
<line x1="293.3" y1="859.2" x2="293.3" y2="893.1" stroke="#333" stroke-width="2.0" stroke-linecap="butt"/>
<line x1="293.3" y1="952.9" x2="293.3" y2="1009.8" stroke="#333" stroke-width="2.0" stroke-linecap="butt"/>
<rect x="272.1" y="893.1" width="42.9" height="59.8" fill="#ededed" stroke="#333" stroke-width="2.0"/>
<line x1="272.1" y1="924.7" x2="315.0" y2="924.7" stroke="#333" stroke-width="3.9" stroke-linecap="butt"/>
<line x1="438.7" y1="787.5" x2="438.7" y2="885.7" stroke="#333" stroke-width="2.0" stroke-linecap="butt"/>
<line x1="438.7" y1="953.4" x2="438.7" y2="1017.5" stroke="#333" stroke-width="2.0" stroke-linecap="butt"/>
<rect x="417.2" y="885.7" width="43.6" height="67.7" fill="#bdbdbd" stroke="#333" stroke-width="2.0"/>
<line x1="417.2" y1="921.5" x2="460.8" y2="921.5" stroke="#333" stroke-width="3.9" stroke-linecap="butt"/>
<line x1="583.9" y1="792.4" x2="583.9" y2="884.9" stroke="#333" stroke-width="2.0" stroke-linecap="butt"/>
<line x1="583.9" y1="947.5" x2="583.9" y2="1014.2" stroke="#333" stroke-width="2.0" stroke-linecap="butt"/>
<rect x="562.4" y="884.9" width="43.2" height="62.6" fill="#666" stroke="#333" stroke-width="2.0"/>
<line x1="562.4" y1="916.5" x2="605.6" y2="916.5" stroke="#3a3a3a" stroke-width="3.9" stroke-linecap="butt"/>
<g fill="#cfcfcf" stroke="#000" stroke-width="1.12"><circle cx="292.5" cy="859.4" r="1.08"/><circle cx="293.3" cy="865.3" r="1.08"/><circle cx="289.0" cy="873.0" r="1.08"/><circle cx="299.4" cy="872.4" r="1.08"/><circle cx="294.2" cy="878.7" r="1.08"/><circle cx="289.6" cy="882.0" r="1.08"/><circle cx="295.6" cy="883.5" r="1.08"/><circle cx="300.2" cy="883.5" r="1.08"/><circle cx="289.2" cy="885.8" r="1.08"/><circle cx="289.6" cy="890.8" r="1.08"/><circle cx="290.0" cy="893.9" r="1.08"/><circle cx="298.2" cy="894.4" r="1.08"/><circle cx="291.7" cy="904.4" r="1.08"/><circle cx="293.3" cy="909.6" r="1.08"/><circle cx="289.6" cy="918.2" r="1.08"/><circle cx="287.9" cy="920.1" r="1.08"/><circle cx="290.0" cy="920.7" r="1.08"/><circle cx="299.2" cy="922.6" r="1.08"/><circle cx="296.5" cy="923.6" r="1.08"/><circle cx="299.4" cy="925.7" r="1.08"/><circle cx="293.8" cy="928.2" r="1.08"/><circle cx="298.4" cy="931.6" r="1.08"/><circle cx="286.7" cy="932.6" r="1.08"/><circle cx="300.5" cy="937.2" r="1.08"/><circle cx="289.2" cy="937.4" r="1.08"/><circle cx="286.9" cy="938.7" r="1.08"/><circle cx="288.1" cy="947.9" r="1.08"/><circle cx="289.6" cy="952.5" r="1.08"/><circle cx="290.6" cy="953.9" r="1.08"/><circle cx="295.4" cy="956.5" r="1.08"/><circle cx="295.2" cy="968.4" r="1.08"/><circle cx="292.3" cy="972.6" r="1.08"/><circle cx="296.1" cy="981.3" r="1.08"/><circle cx="287.3" cy="987.6" r="1.08"/><circle cx="288.3" cy="988.4" r="1.08"/><circle cx="294.4" cy="991.2" r="1.08"/><circle cx="298.6" cy="995.6" r="1.08"/><circle cx="294.8" cy="1009.6" r="1.08"/></g>
<g fill="#cfcfcf" stroke="#000" stroke-width="1.12"><circle cx="433.4" cy="787.5" r="1.08"/><circle cx="431.6" cy="795.6" r="1.08"/><circle cx="433.0" cy="813.0" r="1.08"/><circle cx="444.6" cy="812.4" r="1.08"/><circle cx="436.4" cy="822.7" r="1.08"/><circle cx="434.5" cy="823.6" r="1.08"/><circle cx="443.2" cy="825.7" r="1.08"/><circle cx="444.9" cy="827.2" r="1.08"/><circle cx="443.1" cy="828.2" r="1.08"/><circle cx="443.3" cy="829.5" r="1.08"/><circle cx="433.9" cy="831.0" r="1.08"/><circle cx="435.8" cy="832.3" r="1.08"/><circle cx="444.9" cy="832.9" r="1.08"/><circle cx="438.9" cy="833.9" r="1.08"/><circle cx="443.0" cy="835.6" r="1.08"/><circle cx="444.8" cy="837.3" r="1.08"/><circle cx="440.8" cy="839.0" r="1.08"/><circle cx="441.2" cy="839.2" r="1.08"/><circle cx="445.8" cy="840.6" r="1.08"/><circle cx="435.9" cy="842.9" r="1.08"/><circle cx="441.6" cy="843.3" r="1.08"/><circle cx="445.9" cy="845.4" r="1.08"/><circle cx="433.2" cy="846.5" r="1.08"/><circle cx="432.2" cy="848.0" r="1.08"/><circle cx="442.7" cy="849.5" r="1.08"/><circle cx="444.2" cy="850.7" r="1.08"/><circle cx="445.3" cy="851.4" r="1.08"/><circle cx="438.6" cy="852.0" r="1.08"/><circle cx="436.5" cy="852.5" r="1.08"/><circle cx="433.7" cy="852.9" r="1.08"/><circle cx="434.7" cy="854.0" r="1.08"/><circle cx="442.8" cy="854.5" r="1.08"/><circle cx="438.9" cy="855.2" r="1.08"/><circle cx="435.3" cy="855.6" r="1.08"/><circle cx="440.9" cy="856.1" r="1.08"/><circle cx="445.2" cy="857.1" r="1.08"/><circle cx="445.0" cy="857.5" r="1.08"/><circle cx="435.6" cy="858.4" r="1.08"/><circle cx="440.5" cy="859.1" r="1.08"/><circle cx="442.8" cy="859.7" r="1.08"/><circle cx="435.4" cy="860.0" r="1.08"/><circle cx="438.5" cy="860.7" r="1.08"/><circle cx="444.1" cy="861.0" r="1.08"/><circle cx="438.3" cy="862.0" r="1.08"/><circle cx="435.0" cy="862.7" r="1.08"/><circle cx="439.9" cy="863.0" r="1.08"/><circle cx="436.1" cy="863.7" r="1.08"/><circle cx="432.1" cy="864.2" r="1.08"/><circle cx="439.1" cy="865.0" r="1.08"/><circle cx="440.8" cy="866.0" r="1.08"/><circle cx="437.3" cy="866.3" r="1.08"/><circle cx="438.3" cy="866.8" r="1.08"/><circle cx="433.1" cy="867.8" r="1.08"/><circle cx="441.4" cy="868.1" r="1.08"/><circle cx="439.5" cy="869.0" r="1.08"/><circle cx="445.2" cy="869.5" r="1.08"/><circle cx="435.0" cy="870.3" r="1.08"/><circle cx="446.1" cy="870.7" r="1.08"/><circle cx="434.1" cy="871.3" r="1.08"/><circle cx="432.1" cy="872.1" r="1.08"/><circle cx="439.5" cy="872.3" r="1.08"/><circle cx="442.0" cy="873.0" r="1.08"/><circle cx="436.0" cy="874.0" r="1.08"/><circle cx="440.9" cy="874.6" r="1.08"/><circle cx="438.1" cy="875.2" r="1.08"/><circle cx="432.9" cy="875.6" r="1.08"/><circle cx="445.4" cy="876.3" r="1.08"/><circle cx="432.1" cy="877.2" r="1.08"/><circle cx="435.3" cy="877.3" r="1.08"/><circle cx="437.8" cy="878.3" r="1.08"/><circle cx="437.6" cy="878.6" r="1.08"/><circle cx="442.3" cy="879.5" r="1.08"/><circle cx="440.9" cy="880.0" r="1.08"/><circle cx="440.4" cy="880.8" r="1.08"/><circle cx="441.8" cy="881.0" r="1.08"/><circle cx="432.1" cy="881.7" r="1.08"/><circle cx="431.5" cy="882.5" r="1.08"/><circle cx="437.1" cy="882.9" r="1.08"/><circle cx="432.9" cy="883.8" r="1.08"/><circle cx="443.9" cy="884.7" r="1.08"/><circle cx="440.0" cy="885.1" r="1.08"/><circle cx="445.9" cy="885.6" r="1.08"/><circle cx="435.8" cy="886.1" r="1.08"/><circle cx="444.1" cy="886.6" r="1.08"/><circle cx="437.4" cy="887.2" r="1.08"/><circle cx="444.4" cy="887.6" r="1.08"/><circle cx="443.0" cy="888.0" r="1.08"/><circle cx="437.9" cy="888.7" r="1.08"/><circle cx="437.8" cy="889.0" r="1.08"/><circle cx="436.0" cy="889.5" r="1.08"/><circle cx="437.4" cy="890.1" r="1.08"/><circle cx="442.7" cy="890.4" r="1.08"/><circle cx="438.3" cy="890.9" r="1.08"/><circle cx="438.0" cy="891.6" r="1.08"/><circle cx="444.6" cy="891.9" r="1.08"/><circle cx="442.9" cy="892.6" r="1.08"/><circle cx="441.2" cy="892.8" r="1.08"/><circle cx="435.7" cy="893.5" r="1.08"/><circle cx="445.4" cy="893.9" r="1.08"/><circle cx="441.2" cy="894.4" r="1.08"/><circle cx="441.0" cy="894.7" r="1.08"/><circle cx="442.7" cy="895.1" r="1.08"/><circle cx="445.8" cy="895.7" r="1.08"/><circle cx="441.8" cy="896.1" r="1.08"/><circle cx="437.5" cy="896.4" r="1.08"/><circle cx="435.1" cy="897.2" r="1.08"/><circle cx="434.6" cy="897.7" r="1.08"/><circle cx="446.0" cy="898.0" r="1.08"/><circle cx="444.8" cy="898.4" r="1.08"/><circle cx="439.9" cy="898.8" r="1.08"/><circle cx="443.7" cy="899.6" r="1.08"/><circle cx="440.0" cy="899.9" r="1.08"/><circle cx="442.6" cy="900.5" r="1.08"/><circle cx="439.9" cy="901.0" r="1.08"/><circle cx="441.7" cy="901.3" r="1.08"/><circle cx="439.4" cy="901.9" r="1.08"/><circle cx="433.3" cy="902.6" r="1.08"/><circle cx="436.1" cy="902.9" r="1.08"/><circle cx="445.4" cy="903.4" r="1.08"/><circle cx="439.7" cy="903.6" r="1.08"/><circle cx="438.6" cy="904.2" r="1.08"/><circle cx="440.6" cy="904.5" r="1.08"/><circle cx="441.1" cy="905.4" r="1.08"/><circle cx="443.2" cy="905.5" r="1.08"/><circle cx="433.4" cy="906.1" r="1.08"/><circle cx="438.1" cy="906.6" r="1.08"/><circle cx="446.0" cy="907.1" r="1.08"/><circle cx="445.4" cy="907.6" r="1.08"/><circle cx="442.5" cy="907.9" r="1.08"/><circle cx="435.7" cy="908.3" r="1.08"/><circle cx="441.5" cy="909.0" r="1.08"/><circle cx="436.9" cy="909.6" r="1.08"/><circle cx="436.6" cy="909.8" r="1.08"/><circle cx="431.7" cy="910.4" r="1.08"/><circle cx="441.0" cy="910.8" r="1.08"/><circle cx="435.9" cy="911.2" r="1.08"/><circle cx="445.1" cy="912.0" r="1.08"/><circle cx="433.9" cy="912.2" r="1.08"/><circle cx="432.6" cy="912.6" r="1.08"/><circle cx="442.2" cy="913.4" r="1.08"/><circle cx="438.5" cy="913.6" r="1.08"/><circle cx="431.7" cy="914.3" r="1.08"/><circle cx="444.0" cy="914.8" r="1.08"/><circle cx="441.7" cy="915.0" r="1.08"/><circle cx="436.3" cy="915.7" r="1.08"/><circle cx="434.5" cy="916.2" r="1.08"/><circle cx="435.9" cy="916.5" r="1.08"/><circle cx="443.3" cy="917.0" r="1.08"/><circle cx="440.3" cy="917.5" r="1.08"/><circle cx="434.6" cy="918.2" r="1.08"/><circle cx="440.5" cy="918.3" r="1.08"/><circle cx="445.6" cy="918.7" r="1.08"/><circle cx="437.8" cy="919.3" r="1.08"/><circle cx="443.5" cy="919.8" r="1.08"/><circle cx="441.3" cy="920.5" r="1.08"/><circle cx="436.6" cy="920.6" r="1.08"/><circle cx="434.5" cy="921.4" r="1.08"/><circle cx="444.2" cy="921.9" r="1.08"/><circle cx="436.7" cy="922.0" r="1.08"/><circle cx="441.9" cy="922.5" r="1.08"/><circle cx="441.6" cy="922.8" r="1.08"/><circle cx="443.7" cy="923.3" r="1.08"/><circle cx="439.9" cy="923.9" r="1.08"/><circle cx="432.0" cy="924.1" r="1.08"/><circle cx="445.9" cy="924.7" r="1.08"/><circle cx="444.1" cy="925.2" r="1.08"/><circle cx="432.8" cy="925.4" r="1.08"/><circle cx="441.6" cy="925.8" r="1.08"/><circle cx="435.3" cy="926.3" r="1.08"/><circle cx="441.6" cy="927.0" r="1.08"/><circle cx="438.2" cy="927.3" r="1.08"/><circle cx="439.6" cy="927.7" r="1.08"/><circle cx="436.6" cy="928.2" r="1.08"/><circle cx="435.6" cy="928.5" r="1.08"/><circle cx="431.5" cy="929.0" r="1.08"/><circle cx="440.1" cy="929.4" r="1.08"/><circle cx="433.0" cy="929.8" r="1.08"/><circle cx="438.2" cy="930.5" r="1.08"/><circle cx="435.9" cy="930.8" r="1.08"/><circle cx="442.5" cy="931.4" r="1.08"/><circle cx="441.1" cy="931.7" r="1.08"/><circle cx="438.7" cy="932.2" r="1.08"/><circle cx="437.1" cy="932.5" r="1.08"/><circle cx="438.2" cy="933.0" r="1.08"/><circle cx="439.2" cy="933.4" r="1.08"/><circle cx="444.5" cy="934.0" r="1.08"/><circle cx="431.6" cy="934.2" r="1.08"/><circle cx="431.8" cy="934.6" r="1.08"/><circle cx="440.5" cy="935.3" r="1.08"/><circle cx="434.1" cy="935.5" r="1.08"/><circle cx="443.7" cy="936.2" r="1.08"/><circle cx="441.5" cy="936.5" r="1.08"/><circle cx="438.0" cy="937.0" r="1.08"/><circle cx="439.5" cy="937.3" r="1.08"/><circle cx="446.0" cy="937.9" r="1.08"/><circle cx="443.7" cy="938.4" r="1.08"/><circle cx="435.0" cy="938.4" r="1.08"/><circle cx="439.3" cy="939.3" r="1.08"/><circle cx="435.9" cy="939.5" r="1.08"/><circle cx="438.9" cy="940.1" r="1.08"/><circle cx="432.4" cy="940.6" r="1.08"/><circle cx="431.5" cy="941.0" r="1.08"/><circle cx="437.1" cy="941.1" r="1.08"/><circle cx="432.9" cy="941.7" r="1.08"/><circle cx="445.2" cy="942.1" r="1.08"/><circle cx="442.6" cy="942.5" r="1.08"/><circle cx="439.9" cy="943.0" r="1.08"/><circle cx="438.2" cy="943.2" r="1.08"/><circle cx="441.3" cy="944.0" r="1.08"/><circle cx="437.9" cy="944.1" r="1.08"/><circle cx="436.3" cy="944.7" r="1.08"/><circle cx="440.6" cy="945.2" r="1.08"/><circle cx="434.6" cy="945.3" r="1.08"/><circle cx="434.5" cy="946.1" r="1.08"/><circle cx="442.6" cy="946.2" r="1.08"/><circle cx="445.5" cy="946.8" r="1.08"/><circle cx="432.8" cy="947.3" r="1.08"/><circle cx="435.2" cy="947.8" r="1.08"/><circle cx="442.0" cy="948.3" r="1.08"/><circle cx="432.1" cy="948.7" r="1.08"/><circle cx="443.1" cy="948.8" r="1.08"/><circle cx="434.3" cy="949.3" r="1.08"/><circle cx="433.7" cy="949.7" r="1.08"/><circle cx="445.5" cy="950.3" r="1.08"/><circle cx="435.1" cy="950.7" r="1.08"/><circle cx="434.0" cy="951.3" r="1.08"/><circle cx="440.4" cy="951.7" r="1.08"/><circle cx="431.9" cy="952.2" r="1.08"/><circle cx="437.0" cy="952.5" r="1.08"/><circle cx="435.0" cy="953.1" r="1.08"/><circle cx="434.0" cy="953.4" r="1.08"/><circle cx="445.6" cy="953.8" r="1.08"/><circle cx="435.4" cy="954.1" r="1.08"/><circle cx="441.3" cy="954.9" r="1.08"/><circle cx="434.1" cy="954.9" r="1.08"/><circle cx="435.6" cy="955.4" r="1.08"/><circle cx="441.7" cy="956.2" r="1.08"/><circle cx="441.2" cy="956.7" r="1.08"/><circle cx="437.0" cy="957.0" r="1.08"/><circle cx="438.6" cy="957.4" r="1.08"/><circle cx="438.6" cy="957.6" r="1.08"/><circle cx="439.2" cy="958.2" r="1.08"/><circle cx="431.7" cy="958.5" r="1.08"/><circle cx="436.8" cy="959.3" r="1.08"/><circle cx="433.5" cy="959.5" r="1.08"/><circle cx="444.8" cy="960.1" r="1.08"/><circle cx="438.7" cy="960.3" r="1.08"/><circle cx="442.6" cy="960.9" r="1.08"/><circle cx="434.8" cy="961.4" r="1.08"/><circle cx="442.0" cy="961.7" r="1.08"/><circle cx="444.1" cy="962.1" r="1.08"/><circle cx="434.1" cy="962.5" r="1.08"/><circle cx="443.8" cy="963.1" r="1.08"/><circle cx="442.3" cy="963.7" r="1.08"/><circle cx="442.0" cy="964.2" r="1.08"/><circle cx="443.5" cy="964.3" r="1.08"/><circle cx="433.7" cy="964.8" r="1.08"/><circle cx="431.7" cy="965.2" r="1.08"/><circle cx="436.9" cy="966.0" r="1.08"/><circle cx="432.0" cy="966.1" r="1.08"/><circle cx="440.2" cy="966.9" r="1.08"/><circle cx="431.9" cy="967.4" r="1.08"/><circle cx="435.5" cy="967.4" r="1.08"/><circle cx="433.0" cy="967.9" r="1.08"/><circle cx="440.8" cy="968.4" r="1.08"/><circle cx="433.8" cy="968.8" r="1.08"/><circle cx="436.9" cy="969.4" r="1.08"/><circle cx="439.7" cy="969.7" r="1.08"/><circle cx="437.0" cy="970.3" r="1.08"/><circle cx="431.9" cy="970.7" r="1.08"/><circle cx="434.2" cy="971.2" r="1.08"/><circle cx="431.4" cy="971.6" r="1.08"/><circle cx="440.0" cy="972.3" r="1.08"/><circle cx="439.3" cy="972.5" r="1.08"/><circle cx="433.3" cy="973.2" r="1.08"/><circle cx="441.8" cy="973.4" r="1.08"/><circle cx="441.8" cy="973.8" r="1.08"/><circle cx="431.9" cy="974.5" r="1.08"/><circle cx="435.6" cy="974.7" r="1.08"/><circle cx="442.9" cy="975.3" r="1.08"/><circle cx="445.0" cy="975.7" r="1.08"/><circle cx="437.1" cy="976.0" r="1.08"/><circle cx="442.6" cy="976.7" r="1.08"/><circle cx="445.8" cy="976.8" r="1.08"/><circle cx="444.1" cy="977.5" r="1.08"/><circle cx="440.3" cy="977.8" r="1.08"/><circle cx="444.6" cy="978.5" r="1.08"/><circle cx="444.5" cy="978.8" r="1.08"/><circle cx="443.7" cy="981.1" r="1.08"/><circle cx="445.5" cy="982.4" r="1.08"/><circle cx="437.3" cy="983.5" r="1.08"/><circle cx="433.2" cy="986.4" r="1.08"/><circle cx="432.2" cy="989.0" r="1.08"/><circle cx="435.4" cy="990.7" r="1.08"/><circle cx="440.3" cy="992.2" r="1.08"/><circle cx="437.9" cy="994.1" r="1.08"/><circle cx="445.9" cy="997.8" r="1.08"/><circle cx="436.7" cy="998.7" r="1.08"/><circle cx="434.1" cy="1001.9" r="1.08"/><circle cx="434.2" cy="1004.4" r="1.08"/><circle cx="436.3" cy="1006.0" r="1.08"/><circle cx="431.3" cy="1007.0" r="1.08"/><circle cx="436.2" cy="1009.2" r="1.08"/><circle cx="446.0" cy="1012.0" r="1.08"/><circle cx="432.3" cy="1015.0" r="1.08"/><circle cx="434.7" cy="1017.4" r="1.08"/></g>
<g fill="#cfcfcf" stroke="#000" stroke-width="1.12"><circle cx="580.2" cy="759.2" r="1.08"/><circle cx="588.5" cy="1015.0" r="1.08"/><circle cx="587.2" cy="792.1" r="1.08"/><circle cx="590.3" cy="795.3" r="1.08"/><circle cx="581.4" cy="796.6" r="1.08"/><circle cx="581.3" cy="798.9" r="1.08"/><circle cx="583.5" cy="802.1" r="1.08"/><circle cx="579.0" cy="804.3" r="1.08"/><circle cx="590.7" cy="806.8" r="1.08"/><circle cx="585.7" cy="807.8" r="1.08"/><circle cx="577.3" cy="810.0" r="1.08"/><circle cx="579.4" cy="813.0" r="1.08"/><circle cx="585.0" cy="816.0" r="1.08"/><circle cx="590.7" cy="818.2" r="1.08"/><circle cx="578.2" cy="819.1" r="1.08"/><circle cx="583.4" cy="820.5" r="1.08"/><circle cx="586.6" cy="823.0" r="1.08"/><circle cx="589.1" cy="824.1" r="1.08"/><circle cx="578.4" cy="825.2" r="1.08"/><circle cx="577.2" cy="827.1" r="1.08"/><circle cx="577.2" cy="827.9" r="1.08"/><circle cx="577.7" cy="829.2" r="1.08"/><circle cx="578.6" cy="831.2" r="1.08"/><circle cx="588.7" cy="832.7" r="1.08"/><circle cx="578.5" cy="833.8" r="1.08"/><circle cx="587.3" cy="835.7" r="1.08"/><circle cx="584.8" cy="837.4" r="1.08"/><circle cx="589.2" cy="838.4" r="1.08"/><circle cx="590.8" cy="839.7" r="1.08"/><circle cx="588.0" cy="840.4" r="1.08"/><circle cx="583.5" cy="841.8" r="1.08"/><circle cx="583.7" cy="842.2" r="1.08"/><circle cx="585.5" cy="843.6" r="1.08"/><circle cx="584.1" cy="844.9" r="1.08"/><circle cx="578.7" cy="845.5" r="1.08"/><circle cx="586.6" cy="847.2" r="1.08"/><circle cx="588.2" cy="848.6" r="1.08"/><circle cx="583.4" cy="849.0" r="1.08"/><circle cx="588.4" cy="850.3" r="1.08"/><circle cx="590.1" cy="851.2" r="1.08"/><circle cx="582.5" cy="852.4" r="1.08"/><circle cx="581.9" cy="853.5" r="1.08"/><circle cx="577.5" cy="855.1" r="1.08"/><circle cx="577.9" cy="855.5" r="1.08"/><circle cx="579.0" cy="856.9" r="1.08"/><circle cx="582.9" cy="857.4" r="1.08"/><circle cx="587.8" cy="859.0" r="1.08"/><circle cx="581.0" cy="859.9" r="1.08"/><circle cx="589.6" cy="860.8" r="1.08"/><circle cx="577.0" cy="861.8" r="1.08"/><circle cx="583.8" cy="863.0" r="1.08"/><circle cx="578.8" cy="863.1" r="1.08"/><circle cx="587.6" cy="863.8" r="1.08"/><circle cx="586.5" cy="863.9" r="1.08"/><circle cx="583.2" cy="864.4" r="1.08"/><circle cx="577.5" cy="865.0" r="1.08"/><circle cx="581.6" cy="865.6" r="1.08"/><circle cx="588.0" cy="865.7" r="1.08"/><circle cx="577.3" cy="866.1" r="1.08"/><circle cx="583.6" cy="866.8" r="1.08"/><circle cx="588.2" cy="867.3" r="1.08"/><circle cx="577.5" cy="867.4" r="1.08"/><circle cx="583.6" cy="868.0" r="1.08"/><circle cx="590.0" cy="868.3" r="1.08"/><circle cx="586.1" cy="868.7" r="1.08"/><circle cx="590.1" cy="869.1" r="1.08"/><circle cx="585.7" cy="869.9" r="1.08"/><circle cx="587.2" cy="870.1" r="1.08"/><circle cx="588.2" cy="870.7" r="1.08"/><circle cx="584.1" cy="870.8" r="1.08"/><circle cx="584.7" cy="871.3" r="1.08"/><circle cx="589.3" cy="872.1" r="1.08"/><circle cx="584.7" cy="872.2" r="1.08"/><circle cx="579.2" cy="872.6" r="1.08"/><circle cx="587.7" cy="873.3" r="1.08"/><circle cx="582.9" cy="873.5" r="1.08"/><circle cx="587.3" cy="874.1" r="1.08"/><circle cx="578.5" cy="874.4" r="1.08"/><circle cx="579.2" cy="874.7" r="1.08"/><circle cx="583.9" cy="875.4" r="1.08"/><circle cx="582.0" cy="875.8" r="1.08"/><circle cx="579.3" cy="876.1" r="1.08"/><circle cx="585.5" cy="876.8" r="1.08"/><circle cx="586.9" cy="876.9" r="1.08"/><circle cx="585.6" cy="877.5" r="1.08"/><circle cx="585.6" cy="878.0" r="1.08"/><circle cx="590.8" cy="878.5" r="1.08"/><circle cx="586.1" cy="878.7" r="1.08"/><circle cx="582.7" cy="879.1" r="1.08"/><circle cx="586.1" cy="879.6" r="1.08"/><circle cx="581.9" cy="880.0" r="1.08"/><circle cx="588.3" cy="880.6" r="1.08"/><circle cx="588.9" cy="881.0" r="1.08"/><circle cx="586.1" cy="881.3" r="1.08"/><circle cx="581.3" cy="881.7" r="1.08"/><circle cx="588.3" cy="882.0" r="1.08"/><circle cx="581.2" cy="882.8" r="1.08"/><circle cx="578.5" cy="883.0" r="1.08"/><circle cx="586.0" cy="883.3" r="1.08"/><circle cx="578.0" cy="884.1" r="1.08"/><circle cx="587.7" cy="884.2" r="1.08"/><circle cx="589.4" cy="884.7" r="1.08"/><circle cx="583.6" cy="885.1" r="1.08"/><circle cx="581.0" cy="885.4" r="1.08"/><circle cx="580.8" cy="885.8" r="1.08"/><circle cx="577.2" cy="886.2" r="1.08"/><circle cx="588.4" cy="886.5" r="1.08"/><circle cx="579.6" cy="886.7" r="1.08"/><circle cx="577.9" cy="887.0" r="1.08"/><circle cx="585.5" cy="887.5" r="1.08"/><circle cx="583.3" cy="887.6" r="1.08"/><circle cx="581.4" cy="888.1" r="1.08"/><circle cx="582.9" cy="888.2" r="1.08"/><circle cx="590.8" cy="888.6" r="1.08"/><circle cx="590.1" cy="889.0" r="1.08"/><circle cx="585.1" cy="889.5" r="1.08"/><circle cx="588.4" cy="889.5" r="1.08"/><circle cx="584.8" cy="889.9" r="1.08"/><circle cx="578.1" cy="890.2" r="1.08"/><circle cx="579.1" cy="890.6" r="1.08"/><circle cx="585.1" cy="891.1" r="1.08"/><circle cx="590.6" cy="891.4" r="1.08"/><circle cx="586.1" cy="891.7" r="1.08"/><circle cx="588.0" cy="891.9" r="1.08"/><circle cx="579.1" cy="892.3" r="1.08"/><circle cx="582.8" cy="892.6" r="1.08"/><circle cx="587.1" cy="892.9" r="1.08"/><circle cx="585.0" cy="893.3" r="1.08"/><circle cx="588.7" cy="893.6" r="1.08"/><circle cx="578.9" cy="893.7" r="1.08"/><circle cx="579.1" cy="894.0" r="1.08"/><circle cx="581.3" cy="894.6" r="1.08"/><circle cx="583.5" cy="894.8" r="1.08"/><circle cx="580.8" cy="895.1" r="1.08"/><circle cx="581.6" cy="895.5" r="1.08"/><circle cx="588.4" cy="895.9" r="1.08"/><circle cx="584.7" cy="895.9" r="1.08"/><circle cx="589.5" cy="896.3" r="1.08"/><circle cx="580.6" cy="896.6" r="1.08"/><circle cx="585.3" cy="897.1" r="1.08"/><circle cx="582.7" cy="897.4" r="1.08"/><circle cx="579.7" cy="897.7" r="1.08"/><circle cx="580.5" cy="898.0" r="1.08"/><circle cx="578.3" cy="898.4" r="1.08"/><circle cx="579.6" cy="898.5" r="1.08"/><circle cx="585.2" cy="899.0" r="1.08"/><circle cx="591.0" cy="899.1" r="1.08"/><circle cx="582.3" cy="899.7" r="1.08"/><circle cx="588.7" cy="899.8" r="1.08"/><circle cx="579.4" cy="900.4" r="1.08"/><circle cx="588.6" cy="900.7" r="1.08"/><circle cx="579.8" cy="901.1" r="1.08"/><circle cx="579.2" cy="901.1" r="1.08"/><circle cx="589.8" cy="901.5" r="1.08"/><circle cx="583.6" cy="902.0" r="1.08"/><circle cx="581.9" cy="902.1" r="1.08"/><circle cx="586.1" cy="902.4" r="1.08"/><circle cx="588.0" cy="902.9" r="1.08"/><circle cx="583.4" cy="903.1" r="1.08"/><circle cx="582.1" cy="903.5" r="1.08"/><circle cx="586.7" cy="903.8" r="1.08"/><circle cx="581.5" cy="904.2" r="1.08"/><circle cx="578.9" cy="904.5" r="1.08"/><circle cx="582.4" cy="904.6" r="1.08"/><circle cx="577.3" cy="905.0" r="1.08"/><circle cx="582.9" cy="905.3" r="1.08"/><circle cx="588.9" cy="905.9" r="1.08"/><circle cx="581.4" cy="905.9" r="1.08"/><circle cx="581.3" cy="906.3" r="1.08"/><circle cx="585.3" cy="906.6" r="1.08"/><circle cx="582.3" cy="907.1" r="1.08"/><circle cx="578.3" cy="907.2" r="1.08"/><circle cx="587.8" cy="907.5" r="1.08"/><circle cx="587.2" cy="907.9" r="1.08"/><circle cx="578.0" cy="908.4" r="1.08"/><circle cx="581.3" cy="908.5" r="1.08"/><circle cx="587.4" cy="909.0" r="1.08"/><circle cx="583.3" cy="909.2" r="1.08"/><circle cx="583.6" cy="909.5" r="1.08"/><circle cx="580.6" cy="910.0" r="1.08"/><circle cx="590.0" cy="910.3" r="1.08"/><circle cx="590.6" cy="910.6" r="1.08"/><circle cx="579.3" cy="911.0" r="1.08"/><circle cx="579.7" cy="911.4" r="1.08"/><circle cx="578.5" cy="911.6" r="1.08"/><circle cx="583.2" cy="911.8" r="1.08"/><circle cx="586.6" cy="912.3" r="1.08"/><circle cx="589.7" cy="912.4" r="1.08"/><circle cx="584.1" cy="912.9" r="1.08"/><circle cx="580.9" cy="913.0" r="1.08"/><circle cx="582.8" cy="913.4" r="1.08"/><circle cx="585.4" cy="913.9" r="1.08"/><circle cx="577.8" cy="914.2" r="1.08"/><circle cx="587.3" cy="914.3" r="1.08"/><circle cx="580.1" cy="914.7" r="1.08"/><circle cx="577.5" cy="914.9" r="1.08"/><circle cx="584.7" cy="915.3" r="1.08"/><circle cx="584.9" cy="915.7" r="1.08"/><circle cx="577.0" cy="916.0" r="1.08"/><circle cx="581.6" cy="916.4" r="1.08"/><circle cx="582.2" cy="916.7" r="1.08"/><circle cx="577.5" cy="916.9" r="1.08"/><circle cx="581.1" cy="917.2" r="1.08"/><circle cx="577.2" cy="917.5" r="1.08"/><circle cx="577.1" cy="917.9" r="1.08"/><circle cx="582.0" cy="918.4" r="1.08"/><circle cx="584.4" cy="918.6" r="1.08"/><circle cx="578.3" cy="918.8" r="1.08"/><circle cx="584.8" cy="919.3" r="1.08"/><circle cx="581.8" cy="919.6" r="1.08"/><circle cx="584.0" cy="920.0" r="1.08"/><circle cx="588.8" cy="920.3" r="1.08"/><circle cx="587.3" cy="920.6" r="1.08"/><circle cx="583.4" cy="920.9" r="1.08"/><circle cx="585.1" cy="921.2" r="1.08"/><circle cx="588.6" cy="921.5" r="1.08"/><circle cx="577.6" cy="921.9" r="1.08"/><circle cx="585.7" cy="922.2" r="1.08"/><circle cx="589.9" cy="922.5" r="1.08"/><circle cx="583.6" cy="922.6" r="1.08"/><circle cx="590.5" cy="923.0" r="1.08"/><circle cx="584.9" cy="923.3" r="1.08"/><circle cx="587.7" cy="923.6" r="1.08"/><circle cx="587.4" cy="924.1" r="1.08"/><circle cx="589.5" cy="924.3" r="1.08"/><circle cx="580.0" cy="924.5" r="1.08"/><circle cx="589.5" cy="925.1" r="1.08"/><circle cx="580.8" cy="925.4" r="1.08"/><circle cx="587.0" cy="925.5" r="1.08"/><circle cx="577.7" cy="926.1" r="1.08"/><circle cx="584.4" cy="926.4" r="1.08"/><circle cx="583.7" cy="926.5" r="1.08"/><circle cx="578.3" cy="926.9" r="1.08"/><circle cx="590.3" cy="927.4" r="1.08"/><circle cx="583.2" cy="927.5" r="1.08"/><circle cx="586.5" cy="927.8" r="1.08"/><circle cx="581.6" cy="928.1" r="1.08"/><circle cx="583.6" cy="928.5" r="1.08"/><circle cx="585.4" cy="928.9" r="1.08"/><circle cx="590.2" cy="929.3" r="1.08"/><circle cx="588.7" cy="929.6" r="1.08"/><circle cx="580.3" cy="929.8" r="1.08"/><circle cx="586.1" cy="930.1" r="1.08"/><circle cx="581.8" cy="930.5" r="1.08"/><circle cx="581.3" cy="931.0" r="1.08"/><circle cx="578.1" cy="931.0" r="1.08"/><circle cx="587.3" cy="931.4" r="1.08"/><circle cx="577.4" cy="931.9" r="1.08"/><circle cx="580.3" cy="932.0" r="1.08"/><circle cx="589.7" cy="932.5" r="1.08"/><circle cx="578.3" cy="932.7" r="1.08"/><circle cx="590.8" cy="933.2" r="1.08"/><circle cx="583.6" cy="933.4" r="1.08"/><circle cx="587.9" cy="933.8" r="1.08"/><circle cx="580.7" cy="934.0" r="1.08"/><circle cx="586.3" cy="934.3" r="1.08"/><circle cx="586.0" cy="934.6" r="1.08"/><circle cx="590.8" cy="934.9" r="1.08"/><circle cx="580.1" cy="935.2" r="1.08"/><circle cx="590.5" cy="935.8" r="1.08"/><circle cx="588.9" cy="936.1" r="1.08"/><circle cx="588.6" cy="936.4" r="1.08"/><circle cx="577.9" cy="936.6" r="1.08"/><circle cx="588.8" cy="937.0" r="1.08"/><circle cx="577.4" cy="937.3" r="1.08"/><circle cx="587.3" cy="937.4" r="1.08"/><circle cx="589.7" cy="937.9" r="1.08"/><circle cx="583.2" cy="938.4" r="1.08"/><circle cx="586.4" cy="938.6" r="1.08"/><circle cx="582.1" cy="938.9" r="1.08"/><circle cx="577.8" cy="939.2" r="1.08"/><circle cx="587.2" cy="939.6" r="1.08"/><circle cx="583.5" cy="939.9" r="1.08"/><circle cx="583.3" cy="940.0" r="1.08"/><circle cx="584.7" cy="940.5" r="1.08"/><circle cx="576.9" cy="940.6" r="1.08"/><circle cx="580.3" cy="941.1" r="1.08"/><circle cx="580.0" cy="941.3" r="1.08"/><circle cx="586.8" cy="941.7" r="1.08"/><circle cx="586.5" cy="942.2" r="1.08"/><circle cx="589.3" cy="942.2" r="1.08"/><circle cx="587.3" cy="942.7" r="1.08"/><circle cx="581.9" cy="943.1" r="1.08"/><circle cx="577.8" cy="943.3" r="1.08"/><circle cx="577.6" cy="943.7" r="1.08"/><circle cx="589.9" cy="944.0" r="1.08"/><circle cx="585.5" cy="944.4" r="1.08"/><circle cx="590.6" cy="944.7" r="1.08"/><circle cx="591.1" cy="945.0" r="1.08"/><circle cx="577.0" cy="945.3" r="1.08"/><circle cx="586.0" cy="945.6" r="1.08"/><circle cx="585.6" cy="946.0" r="1.08"/><circle cx="576.9" cy="946.2" r="1.08"/><circle cx="585.8" cy="946.7" r="1.08"/><circle cx="585.3" cy="947.0" r="1.08"/><circle cx="587.9" cy="947.3" r="1.08"/><circle cx="583.5" cy="947.7" r="1.08"/><circle cx="582.5" cy="948.0" r="1.08"/><circle cx="581.5" cy="948.0" r="1.08"/><circle cx="591.1" cy="948.6" r="1.08"/><circle cx="580.8" cy="949.1" r="1.08"/><circle cx="578.2" cy="949.7" r="1.08"/><circle cx="582.5" cy="950.0" r="1.08"/><circle cx="585.4" cy="950.4" r="1.08"/><circle cx="588.3" cy="951.0" r="1.08"/><circle cx="590.9" cy="951.4" r="1.08"/><circle cx="584.4" cy="951.8" r="1.08"/><circle cx="577.0" cy="952.3" r="1.08"/><circle cx="589.7" cy="952.8" r="1.08"/><circle cx="583.8" cy="953.3" r="1.08"/><circle cx="580.6" cy="953.9" r="1.08"/><circle cx="577.7" cy="954.4" r="1.08"/><circle cx="580.9" cy="954.7" r="1.08"/><circle cx="587.9" cy="955.4" r="1.08"/><circle cx="585.4" cy="955.8" r="1.08"/><circle cx="587.5" cy="956.4" r="1.08"/><circle cx="578.7" cy="956.5" r="1.08"/><circle cx="588.9" cy="957.3" r="1.08"/><circle cx="588.0" cy="957.9" r="1.08"/><circle cx="585.0" cy="957.9" r="1.08"/><circle cx="585.5" cy="958.6" r="1.08"/><circle cx="590.7" cy="958.9" r="1.08"/><circle cx="580.7" cy="959.5" r="1.08"/><circle cx="582.3" cy="960.2" r="1.08"/><circle cx="586.4" cy="960.2" r="1.08"/><circle cx="579.9" cy="960.8" r="1.08"/><circle cx="585.5" cy="961.3" r="1.08"/><circle cx="586.4" cy="961.8" r="1.08"/><circle cx="591.1" cy="962.5" r="1.08"/><circle cx="590.1" cy="963.0" r="1.08"/><circle cx="588.7" cy="963.1" r="1.08"/><circle cx="585.2" cy="963.5" r="1.08"/><circle cx="578.2" cy="964.0" r="1.08"/><circle cx="578.6" cy="964.9" r="1.08"/><circle cx="584.4" cy="965.2" r="1.08"/><circle cx="588.2" cy="965.4" r="1.08"/><circle cx="589.6" cy="965.9" r="1.08"/><circle cx="583.9" cy="966.7" r="1.08"/><circle cx="577.2" cy="967.0" r="1.08"/><circle cx="577.4" cy="967.6" r="1.08"/><circle cx="590.1" cy="968.0" r="1.08"/><circle cx="578.5" cy="968.5" r="1.08"/><circle cx="586.9" cy="969.0" r="1.08"/><circle cx="587.9" cy="969.3" r="1.08"/><circle cx="582.8" cy="969.9" r="1.08"/><circle cx="580.8" cy="970.3" r="1.08"/><circle cx="589.6" cy="970.7" r="1.08"/><circle cx="587.9" cy="971.2" r="1.08"/><circle cx="579.5" cy="971.7" r="1.08"/><circle cx="590.7" cy="972.0" r="1.08"/><circle cx="590.9" cy="972.8" r="1.08"/><circle cx="577.7" cy="973.2" r="1.08"/><circle cx="577.5" cy="973.4" r="1.08"/><circle cx="585.8" cy="974.1" r="1.08"/><circle cx="581.1" cy="974.8" r="1.08"/><circle cx="580.0" cy="974.9" r="1.08"/><circle cx="577.2" cy="975.3" r="1.08"/><circle cx="582.8" cy="975.9" r="1.08"/><circle cx="590.5" cy="976.4" r="1.08"/><circle cx="588.7" cy="976.8" r="1.08"/><circle cx="578.3" cy="977.4" r="1.08"/><circle cx="585.6" cy="977.6" r="1.08"/><circle cx="577.5" cy="978.5" r="1.08"/><circle cx="580.1" cy="978.9" r="1.08"/><circle cx="588.8" cy="980.1" r="1.08"/><circle cx="580.3" cy="981.7" r="1.08"/><circle cx="590.7" cy="982.4" r="1.08"/><circle cx="590.1" cy="985.1" r="1.08"/><circle cx="577.5" cy="986.1" r="1.08"/><circle cx="589.9" cy="987.4" r="1.08"/><circle cx="581.1" cy="988.5" r="1.08"/><circle cx="589.5" cy="990.0" r="1.08"/><circle cx="578.0" cy="991.9" r="1.08"/><circle cx="579.7" cy="992.9" r="1.08"/><circle cx="585.7" cy="994.0" r="1.08"/><circle cx="578.2" cy="995.3" r="1.08"/><circle cx="577.6" cy="996.2" r="1.08"/><circle cx="588.4" cy="997.1" r="1.08"/><circle cx="588.6" cy="998.0" r="1.08"/><circle cx="582.5" cy="999.0" r="1.08"/><circle cx="576.9" cy="1000.6" r="1.08"/><circle cx="584.5" cy="1001.4" r="1.08"/><circle cx="590.4" cy="1002.6" r="1.08"/><circle cx="580.0" cy="1003.6" r="1.08"/><circle cx="583.7" cy="1004.1" r="1.08"/><circle cx="584.8" cy="1005.3" r="1.08"/></g>
<text x="276.4" y="1061.3" font-size="16" fill="#555" text-anchor="start" font-family="Liberation Sans, Arial, Helvetica, sans-serif" font-weight="bold" textLength="26.4" lengthAdjust="spacingAndGlyphs" >AA</text>
<text x="426.2" y="1061.3" font-size="15.9" fill="#555" text-anchor="start" font-family="Liberation Sans, Arial, Helvetica, sans-serif" font-weight="bold" textLength="26.2" lengthAdjust="spacingAndGlyphs" >AC</text>
<text x="575.0" y="1061.3" font-size="15.9" fill="#555" text-anchor="start" font-family="Liberation Sans, Arial, Helvetica, sans-serif" font-weight="bold" textLength="26.8" lengthAdjust="spacingAndGlyphs" >CC</text>
<text x="413.2" y="745.0" font-size="24" fill="#000" text-anchor="start" font-family="Liberation Sans, Arial, Helvetica, sans-serif" font-weight="bold" textLength="19.6" lengthAdjust="spacingAndGlyphs" >**</text>
<text x="334.2" y="772.9" font-size="17.0" fill="#000" text-anchor="start" font-family="Liberation Sans, Arial, Helvetica, sans-serif" font-weight="bold" textLength="20.4" lengthAdjust="spacingAndGlyphs" >ns</text>
</svg>
</body></html>
